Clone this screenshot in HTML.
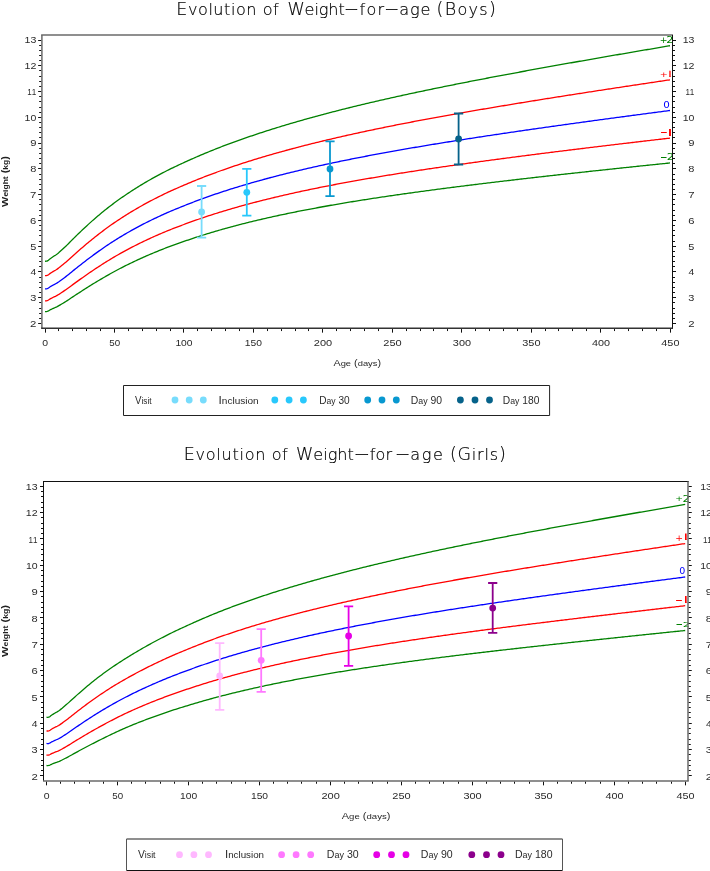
<!DOCTYPE html>
<html><head><meta charset="utf-8"><title>Evolution of Weight-for-age</title>
<style>html,body{margin:0;padding:0;background:#fff;width:710px;height:871px;overflow:hidden}svg{display:block}text{font-kerning:none}</style>
</head><body>
<svg width="710" height="871" viewBox="0 0 710 871">
<rect width="710" height="871" fill="#fff"/>
<text font-family="'DejaVu Sans', 'Liberation Sans', sans-serif" font-weight="200" font-size="17.50" fill="#000" stroke="#000" stroke-width="0.18"><tspan x="176.37" y="14.70" letter-spacing="0.526">E<tspan font-size="16.10">volution</tspan></tspan> <tspan x="262.73" y="14.70" letter-spacing="0.510"><tspan font-size="16.10">of</tspan></tspan> <tspan x="287.39" y="14.70" letter-spacing="-0.100">W<tspan font-size="16.10">eight</tspan></tspan><tspan x="343.98" y="13.79" textLength="14.94" lengthAdjust="spacingAndGlyphs" stroke-width="0.3">-</tspan><tspan x="359.47" y="14.70" letter-spacing="1.305"><tspan font-size="16.10">for</tspan></tspan><tspan x="384.18" y="13.79" textLength="14.94" lengthAdjust="spacingAndGlyphs" stroke-width="0.3">-</tspan><tspan x="399.18" y="14.70" letter-spacing="0.903"><tspan font-size="16.10">age</tspan></tspan> <tspan x="436.59" y="14.70" letter-spacing="1.267">(B<tspan font-size="16.10">oys</tspan>)</tspan></text>
<text font-family="'DejaVu Sans', 'Liberation Sans', sans-serif" font-weight="200" font-size="17.50" fill="#000" stroke="#000" stroke-width="0.18"><tspan x="183.77" y="459.80" letter-spacing="0.713">E<tspan font-size="16.10">volution</tspan></tspan> <tspan x="271.73" y="459.80" letter-spacing="0.510"><tspan font-size="16.10">of</tspan></tspan> <tspan x="295.89" y="459.80" letter-spacing="0.040">W<tspan font-size="16.10">eight</tspan></tspan><tspan x="353.81" y="459.09" textLength="16.18" lengthAdjust="spacingAndGlyphs" stroke-width="0.3">-</tspan><tspan x="369.87" y="459.80" letter-spacing="0.055"><tspan font-size="16.10">for</tspan></tspan><tspan x="394.94" y="459.09" textLength="15.22" lengthAdjust="spacingAndGlyphs" stroke-width="0.3">-</tspan><tspan x="410.18" y="459.80" letter-spacing="1.653"><tspan font-size="16.10">age</tspan></tspan> <tspan x="449.89" y="459.80" letter-spacing="0.791">(G<tspan font-size="16.10">irls</tspan>)</tspan></text>
<g transform="rotate(-90)"><text x="-206.91" y="7.90" font-family="'Liberation Sans', Arial, sans-serif" font-weight="bold" font-size="8.60" fill="#222" textLength="50.75" lengthAdjust="spacingAndGlyphs">W<tspan font-size="6.71">eight</tspan> (<tspan font-size="6.71">kg</tspan>)</text></g>
<g transform="rotate(-90)"><text x="-657.01" y="8.40" font-family="'Liberation Sans', Arial, sans-serif" font-weight="bold" font-size="8.60" fill="#222" textLength="52.07" lengthAdjust="spacingAndGlyphs">W<tspan font-size="6.71">eight</tspan> (<tspan font-size="6.71">kg</tspan>)</text></g>
<text x="333.48" y="365.50" font-family="'Liberation Sans', Arial, sans-serif" font-size="8.40" fill="#2a2a2a" textLength="47.59" lengthAdjust="spacingAndGlyphs">A<tspan font-size="7.31">ge</tspan> (<tspan font-size="7.31">days</tspan>)</text>
<text x="341.78" y="819.00" font-family="'Liberation Sans', Arial, sans-serif" font-size="8.40" fill="#2a2a2a" textLength="48.60" lengthAdjust="spacingAndGlyphs">A<tspan font-size="7.31">ge</tspan> (<tspan font-size="7.31">days</tspan>)</text>
<path d="M45.00,261.15 L45.69,261.25 L46.39,261.22 L47.08,261.06 L47.78,260.70 L48.47,260.18 L49.17,259.56 L49.86,258.94 L50.56,258.41 L51.25,257.94 L51.94,257.46 L52.64,256.98 L53.33,256.51 L54.03,256.05 L54.72,255.63 L55.42,255.19 L56.11,254.72 L56.81,254.22 L57.50,253.69 L58.19,253.13 L58.89,252.55 L60.28,251.33 L61.67,250.07 L63.06,248.78 L64.44,247.51 L65.83,246.21 L67.22,244.86 L68.61,243.47 L70.00,242.07 L71.39,240.65 L72.78,239.25 L74.17,237.87 L75.56,236.51 L76.94,235.16 L78.33,233.82 L79.72,232.48 L81.11,231.15 L82.50,229.83 L83.89,228.52 L85.28,227.22 L86.67,225.92 L88.06,224.64 L89.44,223.37 L90.83,222.12 L92.22,220.88 L93.61,219.66 L95.00,218.45 L96.39,217.26 L97.78,216.08 L99.17,214.91 L100.56,213.75 L101.94,212.60 L103.33,211.46 L104.72,210.33 L106.11,209.22 L107.50,208.12 L108.89,207.04 L110.28,205.96 L111.67,204.91 L113.06,203.86 L114.44,202.83 L115.83,201.81 L117.22,200.80 L118.61,199.80 L120.00,198.81 L121.39,197.83 L122.78,196.87 L124.17,195.91 L125.56,194.96 L126.94,194.03 L128.33,193.10 L129.72,192.18 L131.11,191.27 L132.50,190.37 L133.89,189.48 L135.28,188.59 L136.67,187.72 L138.06,186.86 L139.44,186.00 L140.83,185.16 L142.22,184.32 L143.61,183.49 L145.00,182.67 L146.39,181.86 L147.78,181.05 L149.17,180.25 L150.56,179.47 L151.94,178.68 L153.33,177.91 L154.72,177.14 L156.11,176.38 L157.50,175.63 L158.89,174.89 L160.28,174.15 L161.67,173.41 L163.06,172.69 L164.44,171.96 L165.83,171.24 L167.22,170.52 L168.61,169.82 L170.00,169.13 L171.39,168.45 L172.78,167.79 L174.17,167.13 L175.56,166.47 L176.94,165.82 L178.33,165.16 L179.72,164.52 L181.11,163.87 L182.50,163.23 L183.89,162.59 L185.28,161.96 L186.67,161.33 L188.06,160.70 L189.44,160.07 L190.83,159.45 L192.22,158.84 L193.61,158.22 L195.00,157.61 L196.39,157.01 L197.78,156.41 L199.17,155.81 L200.56,155.21 L201.94,154.62 L203.33,154.03 L204.72,153.45 L206.11,152.87 L207.50,152.30 L208.89,151.73 L210.28,151.16 L211.67,150.60 L213.06,150.04 L214.44,149.48 L215.83,148.93 L217.22,148.38 L218.61,147.84 L220.00,147.30 L221.39,146.76 L222.78,146.23 L224.17,145.70 L225.56,145.18 L226.94,144.66 L228.33,144.14 L229.72,143.62 L231.11,143.11 L232.50,142.60 L233.89,142.09 L235.28,141.59 L236.67,141.09 L238.06,140.59 L239.44,140.10 L240.83,139.61 L242.22,139.12 L243.61,138.63 L245.00,138.15 L246.39,137.66 L247.78,137.19 L249.17,136.71 L250.56,136.23 L251.94,135.76 L253.33,135.29 L254.72,134.82 L256.11,134.36 L257.50,133.89 L258.89,133.43 L260.28,132.97 L261.67,132.52 L263.06,132.07 L264.44,131.62 L265.83,131.17 L267.22,130.72 L268.61,130.28 L270.00,129.84 L271.39,129.40 L272.78,128.97 L274.17,128.53 L275.56,128.10 L276.94,127.67 L278.33,127.25 L279.72,126.82 L281.11,126.40 L282.50,125.98 L283.89,125.56 L285.28,125.14 L286.67,124.73 L288.06,124.31 L289.44,123.90 L290.83,123.49 L292.22,123.08 L293.61,122.68 L295.00,122.27 L296.39,121.87 L297.78,121.47 L299.17,121.06 L300.56,120.66 L301.94,120.27 L303.33,119.87 L304.72,119.48 L306.11,119.09 L307.50,118.70 L308.89,118.31 L310.28,117.93 L311.67,117.54 L313.06,117.16 L314.44,116.78 L315.83,116.40 L317.22,116.02 L318.61,115.65 L320.00,115.28 L321.39,114.90 L322.78,114.53 L324.17,114.16 L325.56,113.80 L326.94,113.43 L328.33,113.06 L329.72,112.70 L331.11,112.34 L332.50,111.98 L333.89,111.62 L335.28,111.26 L336.67,110.90 L338.06,110.55 L339.44,110.19 L340.83,109.84 L342.22,109.48 L343.61,109.13 L345.00,108.78 L346.39,108.44 L347.78,108.09 L349.17,107.75 L350.56,107.40 L351.94,107.06 L353.33,106.72 L354.72,106.38 L356.11,106.05 L357.50,105.71 L358.89,105.37 L360.28,105.04 L361.67,104.71 L363.06,104.38 L364.44,104.05 L365.83,103.72 L367.22,103.39 L368.61,103.06 L370.00,102.74 L371.39,102.41 L372.78,102.09 L374.17,101.77 L375.56,101.44 L376.94,101.12 L378.33,100.80 L379.72,100.48 L381.11,100.16 L382.50,99.84 L383.89,99.52 L385.28,99.21 L386.67,98.89 L388.06,98.58 L389.44,98.26 L390.83,97.95 L392.22,97.64 L393.61,97.33 L395.00,97.02 L396.39,96.71 L397.78,96.40 L399.17,96.10 L400.56,95.79 L401.94,95.49 L403.33,95.19 L404.72,94.88 L406.11,94.58 L407.50,94.28 L408.89,93.98 L410.28,93.68 L411.67,93.39 L413.06,93.09 L414.44,92.79 L415.83,92.50 L417.22,92.20 L418.61,91.91 L420.00,91.62 L421.39,91.32 L422.78,91.03 L424.17,90.74 L425.56,90.45 L426.94,90.16 L428.33,89.87 L429.72,89.58 L431.11,89.29 L432.50,89.01 L433.89,88.72 L435.28,88.44 L436.67,88.15 L438.06,87.87 L439.44,87.58 L440.83,87.30 L442.22,87.02 L443.61,86.73 L445.00,86.45 L446.39,86.17 L447.78,85.89 L449.17,85.61 L450.56,85.33 L451.94,85.05 L453.33,84.78 L454.72,84.50 L456.11,84.22 L457.50,83.94 L458.89,83.67 L460.28,83.39 L461.67,83.12 L463.06,82.84 L464.44,82.57 L465.83,82.30 L467.22,82.02 L468.61,81.75 L470.00,81.48 L471.39,81.21 L472.78,80.94 L474.17,80.67 L475.56,80.40 L476.94,80.13 L478.33,79.86 L479.72,79.59 L481.11,79.33 L482.50,79.06 L483.89,78.79 L485.28,78.53 L486.67,78.26 L488.06,78.00 L489.44,77.73 L490.83,77.47 L492.22,77.20 L493.61,76.94 L495.00,76.68 L496.39,76.42 L497.78,76.15 L499.17,75.89 L500.56,75.63 L501.94,75.37 L503.33,75.11 L504.72,74.85 L506.11,74.59 L507.50,74.33 L508.89,74.07 L510.28,73.81 L511.67,73.55 L513.06,73.29 L514.44,73.04 L515.83,72.78 L517.22,72.52 L518.61,72.27 L520.00,72.01 L521.39,71.75 L522.78,71.50 L524.17,71.24 L525.56,70.99 L526.94,70.73 L528.33,70.48 L529.72,70.23 L531.11,69.97 L532.50,69.72 L533.89,69.47 L535.28,69.21 L536.67,68.96 L538.06,68.71 L539.44,68.46 L540.83,68.21 L542.22,67.95 L543.61,67.70 L545.00,67.45 L546.39,67.20 L547.78,66.95 L549.17,66.70 L550.56,66.45 L551.94,66.20 L553.33,65.95 L554.72,65.70 L556.11,65.46 L557.50,65.21 L558.89,64.96 L560.28,64.71 L561.67,64.46 L563.06,64.22 L564.44,63.97 L565.83,63.72 L567.22,63.47 L568.61,63.23 L570.00,62.98 L571.39,62.74 L572.78,62.49 L574.17,62.24 L575.56,62.00 L576.94,61.75 L578.33,61.51 L579.72,61.26 L581.11,61.02 L582.50,60.78 L583.89,60.53 L585.28,60.29 L586.67,60.04 L588.06,59.80 L589.44,59.56 L590.83,59.31 L592.22,59.07 L593.61,58.83 L595.00,58.59 L596.39,58.34 L597.78,58.10 L599.17,57.86 L600.56,57.62 L601.94,57.38 L603.33,57.14 L604.72,56.89 L606.11,56.65 L607.50,56.41 L608.89,56.17 L610.28,55.93 L611.67,55.69 L613.06,55.45 L614.44,55.21 L615.83,54.97 L617.22,54.74 L618.61,54.50 L620.00,54.26 L621.39,54.02 L622.78,53.78 L624.17,53.54 L625.56,53.30 L626.94,53.06 L628.33,52.83 L629.72,52.59 L631.11,52.35 L632.50,52.11 L633.89,51.87 L635.28,51.64 L636.67,51.40 L638.06,51.16 L639.44,50.92 L640.83,50.69 L642.22,50.45 L643.61,50.21 L645.00,49.98 L646.39,49.74 L647.78,49.50 L649.17,49.27 L650.56,49.03 L651.94,48.80 L653.33,48.56 L654.72,48.32 L656.11,48.09 L657.50,47.85 L658.89,47.62 L660.28,47.38 L661.67,47.15 L663.06,46.91 L664.44,46.68 L665.83,46.44 L667.22,46.21 L668.61,45.97 L670.00,45.74" fill="none" stroke="#008000" stroke-width="1.3"/>
<path d="M45.00,275.60 L45.69,275.68 L46.39,275.64 L47.08,275.48 L47.78,275.17 L48.47,274.69 L49.17,274.15 L49.86,273.60 L50.56,273.12 L51.25,272.69 L51.94,272.26 L52.64,271.83 L53.33,271.41 L54.03,271.00 L54.72,270.61 L55.42,270.22 L56.11,269.80 L56.81,269.35 L57.50,268.87 L58.19,268.37 L58.89,267.85 L60.28,266.76 L61.67,265.62 L63.06,264.47 L64.44,263.32 L65.83,262.16 L67.22,260.95 L68.61,259.71 L70.00,258.44 L71.39,257.17 L72.78,255.91 L74.17,254.67 L75.56,253.45 L76.94,252.23 L78.33,251.02 L79.72,249.81 L81.11,248.61 L82.50,247.41 L83.89,246.22 L85.28,245.04 L86.67,243.86 L88.06,242.70 L89.44,241.54 L90.83,240.40 L92.22,239.27 L93.61,238.15 L95.00,237.05 L96.39,235.95 L97.78,234.87 L99.17,233.79 L100.56,232.73 L101.94,231.67 L103.33,230.62 L104.72,229.59 L106.11,228.56 L107.50,227.55 L108.89,226.54 L110.28,225.55 L111.67,224.57 L113.06,223.60 L114.44,222.65 L115.83,221.70 L117.22,220.76 L118.61,219.84 L120.00,218.92 L121.39,218.02 L122.78,217.12 L124.17,216.23 L125.56,215.35 L126.94,214.48 L128.33,213.62 L129.72,212.77 L131.11,211.92 L132.50,211.09 L133.89,210.26 L135.28,209.44 L136.67,208.63 L138.06,207.83 L139.44,207.03 L140.83,206.25 L142.22,205.47 L143.61,204.69 L145.00,203.93 L146.39,203.17 L147.78,202.42 L149.17,201.68 L150.56,200.95 L151.94,200.22 L153.33,199.50 L154.72,198.78 L156.11,198.07 L157.50,197.37 L158.89,196.68 L160.28,195.99 L161.67,195.31 L163.06,194.63 L164.44,193.95 L165.83,193.28 L167.22,192.61 L168.61,191.96 L170.00,191.31 L171.39,190.68 L172.78,190.06 L174.17,189.45 L175.56,188.83 L176.94,188.22 L178.33,187.62 L179.72,187.01 L181.11,186.41 L182.50,185.81 L183.89,185.22 L185.28,184.63 L186.67,184.04 L188.06,183.45 L189.44,182.87 L190.83,182.29 L192.22,181.72 L193.61,181.15 L195.00,180.58 L196.39,180.01 L197.78,179.45 L199.17,178.90 L200.56,178.34 L201.94,177.79 L203.33,177.25 L204.72,176.71 L206.11,176.17 L207.50,175.64 L208.89,175.11 L210.28,174.58 L211.67,174.06 L213.06,173.54 L214.44,173.03 L215.83,172.52 L217.22,172.01 L218.61,171.51 L220.00,171.01 L221.39,170.51 L222.78,170.02 L224.17,169.53 L225.56,169.04 L226.94,168.56 L228.33,168.08 L229.72,167.60 L231.11,167.13 L232.50,166.66 L233.89,166.19 L235.28,165.72 L236.67,165.26 L238.06,164.80 L239.44,164.35 L240.83,163.89 L242.22,163.44 L243.61,162.99 L245.00,162.55 L246.39,162.10 L247.78,161.66 L249.17,161.22 L250.56,160.79 L251.94,160.35 L253.33,159.92 L254.72,159.49 L256.11,159.06 L257.50,158.64 L258.89,158.21 L260.28,157.79 L261.67,157.38 L263.06,156.96 L264.44,156.55 L265.83,156.14 L267.22,155.73 L268.61,155.33 L270.00,154.92 L271.39,154.52 L272.78,154.12 L274.17,153.73 L275.56,153.33 L276.94,152.94 L278.33,152.55 L279.72,152.16 L281.11,151.78 L282.50,151.39 L283.89,151.01 L285.28,150.63 L286.67,150.25 L288.06,149.87 L289.44,149.50 L290.83,149.13 L292.22,148.75 L293.61,148.38 L295.00,148.01 L296.39,147.65 L297.78,147.28 L299.17,146.92 L300.56,146.56 L301.94,146.20 L303.33,145.84 L304.72,145.48 L306.11,145.13 L307.50,144.77 L308.89,144.42 L310.28,144.07 L311.67,143.72 L313.06,143.38 L314.44,143.03 L315.83,142.69 L317.22,142.35 L318.61,142.01 L320.00,141.67 L321.39,141.33 L322.78,141.00 L324.17,140.66 L325.56,140.33 L326.94,140.00 L328.33,139.67 L329.72,139.34 L331.11,139.01 L332.50,138.69 L333.89,138.36 L335.28,138.04 L336.67,137.72 L338.06,137.40 L339.44,137.08 L340.83,136.76 L342.22,136.44 L343.61,136.12 L345.00,135.81 L346.39,135.50 L347.78,135.19 L349.17,134.87 L350.56,134.57 L351.94,134.26 L353.33,133.95 L354.72,133.65 L356.11,133.34 L357.50,133.04 L358.89,132.74 L360.28,132.44 L361.67,132.14 L363.06,131.84 L364.44,131.55 L365.83,131.25 L367.22,130.96 L368.61,130.66 L370.00,130.37 L371.39,130.08 L372.78,129.79 L374.17,129.50 L375.56,129.21 L376.94,128.92 L378.33,128.63 L379.72,128.35 L381.11,128.06 L382.50,127.78 L383.89,127.49 L385.28,127.21 L386.67,126.93 L388.06,126.64 L389.44,126.36 L390.83,126.08 L392.22,125.81 L393.61,125.53 L395.00,125.25 L396.39,124.98 L397.78,124.70 L399.17,124.43 L400.56,124.16 L401.94,123.89 L403.33,123.61 L404.72,123.34 L406.11,123.08 L407.50,122.81 L408.89,122.54 L410.28,122.27 L411.67,122.01 L413.06,121.74 L414.44,121.48 L415.83,121.21 L417.22,120.95 L418.61,120.69 L420.00,120.42 L421.39,120.16 L422.78,119.90 L424.17,119.64 L425.56,119.38 L426.94,119.12 L428.33,118.87 L429.72,118.61 L431.11,118.35 L432.50,118.09 L433.89,117.84 L435.28,117.58 L436.67,117.33 L438.06,117.08 L439.44,116.82 L440.83,116.57 L442.22,116.32 L443.61,116.07 L445.00,115.82 L446.39,115.57 L447.78,115.32 L449.17,115.07 L450.56,114.82 L451.94,114.57 L453.33,114.33 L454.72,114.08 L456.11,113.83 L457.50,113.59 L458.89,113.34 L460.28,113.10 L461.67,112.85 L463.06,112.61 L464.44,112.37 L465.83,112.12 L467.22,111.88 L468.61,111.64 L470.00,111.40 L471.39,111.16 L472.78,110.92 L474.17,110.68 L475.56,110.44 L476.94,110.20 L478.33,109.96 L479.72,109.72 L481.11,109.48 L482.50,109.25 L483.89,109.01 L485.28,108.77 L486.67,108.54 L488.06,108.30 L489.44,108.07 L490.83,107.83 L492.22,107.60 L493.61,107.37 L495.00,107.13 L496.39,106.90 L497.78,106.67 L499.17,106.44 L500.56,106.20 L501.94,105.97 L503.33,105.74 L504.72,105.51 L506.11,105.28 L507.50,105.05 L508.89,104.82 L510.28,104.59 L511.67,104.36 L513.06,104.13 L514.44,103.90 L515.83,103.67 L517.22,103.45 L518.61,103.22 L520.00,102.99 L521.39,102.76 L522.78,102.54 L524.17,102.31 L525.56,102.09 L526.94,101.86 L528.33,101.64 L529.72,101.41 L531.11,101.19 L532.50,100.96 L533.89,100.74 L535.28,100.51 L536.67,100.29 L538.06,100.07 L539.44,99.84 L540.83,99.62 L542.22,99.40 L543.61,99.18 L545.00,98.96 L546.39,98.73 L547.78,98.51 L549.17,98.29 L550.56,98.07 L551.94,97.85 L553.33,97.63 L554.72,97.41 L556.11,97.19 L557.50,96.97 L558.89,96.75 L560.28,96.53 L561.67,96.31 L563.06,96.09 L564.44,95.87 L565.83,95.66 L567.22,95.44 L568.61,95.22 L570.00,95.00 L571.39,94.78 L572.78,94.57 L574.17,94.35 L575.56,94.13 L576.94,93.92 L578.33,93.70 L579.72,93.49 L581.11,93.27 L582.50,93.05 L583.89,92.84 L585.28,92.62 L586.67,92.41 L588.06,92.19 L589.44,91.98 L590.83,91.77 L592.22,91.55 L593.61,91.34 L595.00,91.12 L596.39,90.91 L597.78,90.70 L599.17,90.48 L600.56,90.27 L601.94,90.06 L603.33,89.84 L604.72,89.63 L606.11,89.42 L607.50,89.21 L608.89,88.99 L610.28,88.78 L611.67,88.57 L613.06,88.36 L614.44,88.15 L615.83,87.94 L617.22,87.73 L618.61,87.52 L620.00,87.31 L621.39,87.10 L622.78,86.88 L624.17,86.67 L625.56,86.46 L626.94,86.25 L628.33,86.05 L629.72,85.84 L631.11,85.63 L632.50,85.42 L633.89,85.21 L635.28,85.00 L636.67,84.79 L638.06,84.58 L639.44,84.37 L640.83,84.16 L642.22,83.95 L643.61,83.75 L645.00,83.54 L646.39,83.33 L647.78,83.12 L649.17,82.91 L650.56,82.71 L651.94,82.50 L653.33,82.29 L654.72,82.08 L656.11,81.88 L657.50,81.67 L658.89,81.46 L660.28,81.26 L661.67,81.05 L663.06,80.84 L664.44,80.64 L665.83,80.43 L667.22,80.22 L668.61,80.02 L670.00,79.81" fill="none" stroke="#ff0000" stroke-width="1.3"/>
<path d="M45.00,288.80 L45.69,288.85 L46.39,288.81 L47.08,288.66 L47.78,288.36 L48.47,287.94 L49.17,287.45 L49.86,286.95 L50.56,286.52 L51.25,286.14 L51.94,285.75 L52.64,285.36 L53.33,284.97 L54.03,284.60 L54.72,284.25 L55.42,283.90 L56.11,283.51 L56.81,283.10 L57.50,282.67 L58.19,282.22 L58.89,281.75 L60.28,280.77 L61.67,279.75 L63.06,278.71 L64.44,277.68 L65.83,276.63 L67.22,275.54 L68.61,274.42 L70.00,273.28 L71.39,272.14 L72.78,271.00 L74.17,269.88 L75.56,268.78 L76.94,267.68 L78.33,266.58 L79.72,265.49 L81.11,264.40 L82.50,263.31 L83.89,262.24 L85.28,261.16 L86.67,260.09 L88.06,259.03 L89.44,257.98 L90.83,256.94 L92.22,255.91 L93.61,254.89 L95.00,253.88 L96.39,252.87 L97.78,251.88 L99.17,250.89 L100.56,249.91 L101.94,248.94 L103.33,247.98 L104.72,247.02 L106.11,246.08 L107.50,245.14 L108.89,244.22 L110.28,243.30 L111.67,242.39 L113.06,241.50 L114.44,240.61 L115.83,239.74 L117.22,238.87 L118.61,238.01 L120.00,237.16 L121.39,236.32 L122.78,235.49 L124.17,234.67 L125.56,233.85 L126.94,233.04 L128.33,232.25 L129.72,231.45 L131.11,230.67 L132.50,229.90 L133.89,229.13 L135.28,228.37 L136.67,227.61 L138.06,226.87 L139.44,226.13 L140.83,225.40 L142.22,224.67 L143.61,223.95 L145.00,223.24 L146.39,222.54 L147.78,221.84 L149.17,221.15 L150.56,220.46 L151.94,219.79 L153.33,219.11 L154.72,218.45 L156.11,217.79 L157.50,217.13 L158.89,216.48 L160.28,215.84 L161.67,215.21 L163.06,214.57 L164.44,213.94 L165.83,213.31 L167.22,212.70 L168.61,212.08 L170.00,211.49 L171.39,210.90 L172.78,210.32 L174.17,209.75 L175.56,209.17 L176.94,208.61 L178.33,208.04 L179.72,207.48 L181.11,206.91 L182.50,206.36 L183.89,205.80 L185.28,205.25 L186.67,204.70 L188.06,204.16 L189.44,203.61 L190.83,203.08 L192.22,202.54 L193.61,202.01 L195.00,201.48 L196.39,200.95 L197.78,200.43 L199.17,199.91 L200.56,199.40 L201.94,198.89 L203.33,198.38 L204.72,197.88 L206.11,197.38 L207.50,196.88 L208.89,196.39 L210.28,195.90 L211.67,195.41 L213.06,194.93 L214.44,194.46 L215.83,193.99 L217.22,193.52 L218.61,193.05 L220.00,192.59 L221.39,192.13 L222.78,191.67 L224.17,191.22 L225.56,190.77 L226.94,190.32 L228.33,189.87 L229.72,189.43 L231.11,188.99 L232.50,188.56 L233.89,188.13 L235.28,187.70 L236.67,187.27 L238.06,186.84 L239.44,186.42 L240.83,186.00 L242.22,185.58 L243.61,185.17 L245.00,184.76 L246.39,184.35 L247.78,183.94 L249.17,183.54 L250.56,183.14 L251.94,182.74 L253.33,182.34 L254.72,181.95 L256.11,181.55 L257.50,181.16 L258.89,180.77 L260.28,180.39 L261.67,180.01 L263.06,179.62 L264.44,179.25 L265.83,178.87 L267.22,178.50 L268.61,178.12 L270.00,177.75 L271.39,177.39 L272.78,177.02 L274.17,176.66 L275.56,176.30 L276.94,175.94 L278.33,175.58 L279.72,175.23 L281.11,174.87 L282.50,174.52 L283.89,174.17 L285.28,173.82 L286.67,173.48 L288.06,173.13 L289.44,172.79 L290.83,172.45 L292.22,172.11 L293.61,171.77 L295.00,171.44 L296.39,171.10 L297.78,170.77 L299.17,170.44 L300.56,170.11 L301.94,169.78 L303.33,169.46 L304.72,169.13 L306.11,168.81 L307.50,168.49 L308.89,168.17 L310.28,167.85 L311.67,167.54 L313.06,167.22 L314.44,166.91 L315.83,166.60 L317.22,166.29 L318.61,165.98 L320.00,165.67 L321.39,165.37 L322.78,165.06 L324.17,164.76 L325.56,164.46 L326.94,164.16 L328.33,163.86 L329.72,163.56 L331.11,163.27 L332.50,162.97 L333.89,162.68 L335.28,162.38 L336.67,162.09 L338.06,161.80 L339.44,161.51 L340.83,161.23 L342.22,160.94 L343.61,160.66 L345.00,160.37 L346.39,160.09 L347.78,159.81 L349.17,159.53 L350.56,159.25 L351.94,158.97 L353.33,158.70 L354.72,158.42 L356.11,158.15 L357.50,157.88 L358.89,157.60 L360.28,157.33 L361.67,157.06 L363.06,156.80 L364.44,156.53 L365.83,156.26 L367.22,156.00 L368.61,155.73 L370.00,155.47 L371.39,155.21 L372.78,154.95 L374.17,154.69 L375.56,154.43 L376.94,154.17 L378.33,153.91 L379.72,153.65 L381.11,153.39 L382.50,153.14 L383.89,152.88 L385.28,152.63 L386.67,152.38 L388.06,152.12 L389.44,151.87 L390.83,151.62 L392.22,151.37 L393.61,151.12 L395.00,150.88 L396.39,150.63 L397.78,150.38 L399.17,150.14 L400.56,149.89 L401.94,149.65 L403.33,149.41 L404.72,149.17 L406.11,148.93 L407.50,148.69 L408.89,148.45 L410.28,148.21 L411.67,147.97 L413.06,147.73 L414.44,147.49 L415.83,147.26 L417.22,147.02 L418.61,146.79 L420.00,146.55 L421.39,146.32 L422.78,146.08 L424.17,145.85 L425.56,145.62 L426.94,145.39 L428.33,145.15 L429.72,144.92 L431.11,144.69 L432.50,144.47 L433.89,144.24 L435.28,144.01 L436.67,143.78 L438.06,143.56 L439.44,143.33 L440.83,143.10 L442.22,142.88 L443.61,142.66 L445.00,142.43 L446.39,142.21 L447.78,141.99 L449.17,141.76 L450.56,141.54 L451.94,141.32 L453.33,141.10 L454.72,140.88 L456.11,140.66 L457.50,140.44 L458.89,140.23 L460.28,140.01 L461.67,139.79 L463.06,139.57 L464.44,139.36 L465.83,139.14 L467.22,138.92 L468.61,138.71 L470.00,138.49 L471.39,138.28 L472.78,138.06 L474.17,137.85 L475.56,137.63 L476.94,137.42 L478.33,137.21 L479.72,137.00 L481.11,136.79 L482.50,136.57 L483.89,136.36 L485.28,136.15 L486.67,135.94 L488.06,135.73 L489.44,135.52 L490.83,135.32 L492.22,135.11 L493.61,134.90 L495.00,134.69 L496.39,134.49 L497.78,134.28 L499.17,134.07 L500.56,133.87 L501.94,133.66 L503.33,133.45 L504.72,133.25 L506.11,133.04 L507.50,132.84 L508.89,132.63 L510.28,132.43 L511.67,132.22 L513.06,132.02 L514.44,131.82 L515.83,131.61 L517.22,131.41 L518.61,131.21 L520.00,131.01 L521.39,130.81 L522.78,130.61 L524.17,130.40 L525.56,130.20 L526.94,130.00 L528.33,129.80 L529.72,129.60 L531.11,129.40 L532.50,129.20 L533.89,129.01 L535.28,128.81 L536.67,128.61 L538.06,128.41 L539.44,128.21 L540.83,128.02 L542.22,127.82 L543.61,127.62 L545.00,127.42 L546.39,127.23 L547.78,127.03 L549.17,126.83 L550.56,126.64 L551.94,126.44 L553.33,126.25 L554.72,126.05 L556.11,125.86 L557.50,125.66 L558.89,125.47 L560.28,125.27 L561.67,125.08 L563.06,124.88 L564.44,124.69 L565.83,124.50 L567.22,124.30 L568.61,124.11 L570.00,123.92 L571.39,123.73 L572.78,123.53 L574.17,123.34 L575.56,123.15 L576.94,122.96 L578.33,122.77 L579.72,122.58 L581.11,122.38 L582.50,122.19 L583.89,122.00 L585.28,121.81 L586.67,121.62 L588.06,121.43 L589.44,121.24 L590.83,121.05 L592.22,120.86 L593.61,120.67 L595.00,120.48 L596.39,120.29 L597.78,120.11 L599.17,119.92 L600.56,119.73 L601.94,119.54 L603.33,119.35 L604.72,119.16 L606.11,118.98 L607.50,118.79 L608.89,118.60 L610.28,118.41 L611.67,118.23 L613.06,118.04 L614.44,117.85 L615.83,117.67 L617.22,117.48 L618.61,117.29 L620.00,117.11 L621.39,116.92 L622.78,116.74 L624.17,116.55 L625.56,116.36 L626.94,116.18 L628.33,115.99 L629.72,115.81 L631.11,115.62 L632.50,115.44 L633.89,115.25 L635.28,115.07 L636.67,114.89 L638.06,114.70 L639.44,114.52 L640.83,114.33 L642.22,114.15 L643.61,113.96 L645.00,113.78 L646.39,113.60 L647.78,113.41 L649.17,113.23 L650.56,113.05 L651.94,112.86 L653.33,112.68 L654.72,112.50 L656.11,112.32 L657.50,112.13 L658.89,111.95 L660.28,111.77 L661.67,111.59 L663.06,111.41 L664.44,111.22 L665.83,111.04 L667.22,110.86 L668.61,110.68 L670.00,110.50" fill="none" stroke="#0000ff" stroke-width="1.3"/>
<path d="M45.00,300.80 L45.69,300.83 L46.39,300.77 L47.08,300.62 L47.78,300.35 L48.47,299.97 L49.17,299.52 L49.86,299.08 L50.56,298.69 L51.25,298.34 L51.94,297.98 L52.64,297.63 L53.33,297.28 L54.03,296.94 L54.72,296.61 L55.42,296.29 L56.11,295.94 L56.81,295.56 L57.50,295.17 L58.19,294.76 L58.89,294.34 L60.28,293.45 L61.67,292.53 L63.06,291.59 L64.44,290.66 L65.83,289.71 L67.22,288.72 L68.61,287.71 L70.00,286.69 L71.39,285.66 L72.78,284.63 L74.17,283.62 L75.56,282.62 L76.94,281.62 L78.33,280.62 L79.72,279.63 L81.11,278.64 L82.50,277.66 L83.89,276.68 L85.28,275.70 L86.67,274.73 L88.06,273.77 L89.44,272.81 L90.83,271.86 L92.22,270.92 L93.61,269.99 L95.00,269.06 L96.39,268.14 L97.78,267.23 L99.17,266.33 L100.56,265.43 L101.94,264.54 L103.33,263.65 L104.72,262.77 L106.11,261.90 L107.50,261.04 L108.89,260.18 L110.28,259.34 L111.67,258.50 L113.06,257.67 L114.44,256.86 L115.83,256.04 L117.22,255.24 L118.61,254.45 L120.00,253.66 L121.39,252.88 L122.78,252.11 L124.17,251.35 L125.56,250.59 L126.94,249.84 L128.33,249.10 L129.72,248.37 L131.11,247.65 L132.50,246.93 L133.89,246.21 L135.28,245.51 L136.67,244.81 L138.06,244.12 L139.44,243.43 L140.83,242.75 L142.22,242.08 L143.61,241.41 L145.00,240.75 L146.39,240.09 L147.78,239.44 L149.17,238.80 L150.56,238.16 L151.94,237.53 L153.33,236.90 L154.72,236.28 L156.11,235.67 L157.50,235.06 L158.89,234.45 L160.28,233.85 L161.67,233.26 L163.06,232.67 L164.44,232.08 L165.83,231.50 L167.22,230.92 L168.61,230.35 L170.00,229.79 L171.39,229.25 L172.78,228.71 L174.17,228.17 L175.56,227.64 L176.94,227.11 L178.33,226.58 L179.72,226.05 L181.11,225.53 L182.50,225.01 L183.89,224.49 L185.28,223.98 L186.67,223.47 L188.06,222.96 L189.44,222.46 L190.83,221.95 L192.22,221.45 L193.61,220.96 L195.00,220.46 L196.39,219.98 L197.78,219.49 L199.17,219.01 L200.56,218.53 L201.94,218.05 L203.33,217.58 L204.72,217.11 L206.11,216.65 L207.50,216.19 L208.89,215.73 L210.28,215.27 L211.67,214.83 L213.06,214.38 L214.44,213.94 L215.83,213.50 L217.22,213.06 L218.61,212.63 L220.00,212.20 L221.39,211.78 L222.78,211.35 L224.17,210.93 L225.56,210.51 L226.94,210.10 L228.33,209.69 L229.72,209.28 L231.11,208.87 L232.50,208.47 L233.89,208.07 L235.28,207.67 L236.67,207.27 L238.06,206.88 L239.44,206.49 L240.83,206.10 L242.22,205.72 L243.61,205.33 L245.00,204.95 L246.39,204.58 L247.78,204.20 L249.17,203.83 L250.56,203.46 L251.94,203.09 L253.33,202.72 L254.72,202.36 L256.11,202.00 L257.50,201.64 L258.89,201.28 L260.28,200.93 L261.67,200.58 L263.06,200.23 L264.44,199.88 L265.83,199.53 L267.22,199.19 L268.61,198.85 L270.00,198.51 L271.39,198.17 L272.78,197.84 L274.17,197.50 L275.56,197.17 L276.94,196.84 L278.33,196.51 L279.72,196.19 L281.11,195.86 L282.50,195.54 L283.89,195.22 L285.28,194.90 L286.67,194.59 L288.06,194.27 L289.44,193.96 L290.83,193.65 L292.22,193.34 L293.61,193.03 L295.00,192.72 L296.39,192.42 L297.78,192.12 L299.17,191.81 L300.56,191.51 L301.94,191.22 L303.33,190.92 L304.72,190.62 L306.11,190.33 L307.50,190.04 L308.89,189.75 L310.28,189.46 L311.67,189.17 L313.06,188.88 L314.44,188.60 L315.83,188.31 L317.22,188.03 L318.61,187.75 L320.00,187.47 L321.39,187.20 L322.78,186.92 L324.17,186.64 L325.56,186.37 L326.94,186.10 L328.33,185.83 L329.72,185.56 L331.11,185.29 L332.50,185.02 L333.89,184.76 L335.28,184.49 L336.67,184.23 L338.06,183.96 L339.44,183.70 L340.83,183.44 L342.22,183.18 L343.61,182.93 L345.00,182.67 L346.39,182.41 L347.78,182.16 L349.17,181.91 L350.56,181.65 L351.94,181.40 L353.33,181.15 L354.72,180.91 L356.11,180.66 L357.50,180.41 L358.89,180.17 L360.28,179.92 L361.67,179.68 L363.06,179.44 L364.44,179.20 L365.83,178.95 L367.22,178.72 L368.61,178.48 L370.00,178.24 L371.39,178.00 L372.78,177.77 L374.17,177.53 L375.56,177.30 L376.94,177.07 L378.33,176.83 L379.72,176.60 L381.11,176.37 L382.50,176.14 L383.89,175.91 L385.28,175.68 L386.67,175.46 L388.06,175.23 L389.44,175.00 L390.83,174.78 L392.22,174.55 L393.61,174.33 L395.00,174.11 L396.39,173.89 L397.78,173.67 L399.17,173.45 L400.56,173.23 L401.94,173.01 L403.33,172.79 L404.72,172.57 L406.11,172.36 L407.50,172.14 L408.89,171.92 L410.28,171.71 L411.67,171.50 L413.06,171.28 L414.44,171.07 L415.83,170.86 L417.22,170.64 L418.61,170.43 L420.00,170.22 L421.39,170.01 L422.78,169.80 L424.17,169.59 L425.56,169.38 L426.94,169.18 L428.33,168.97 L429.72,168.76 L431.11,168.56 L432.50,168.35 L433.89,168.14 L435.28,167.94 L436.67,167.74 L438.06,167.53 L439.44,167.33 L440.83,167.13 L442.22,166.93 L443.61,166.73 L445.00,166.53 L446.39,166.33 L447.78,166.13 L449.17,165.93 L450.56,165.73 L451.94,165.54 L453.33,165.34 L454.72,165.14 L456.11,164.95 L457.50,164.75 L458.89,164.56 L460.28,164.36 L461.67,164.17 L463.06,163.97 L464.44,163.78 L465.83,163.58 L467.22,163.39 L468.61,163.20 L470.00,163.00 L471.39,162.81 L472.78,162.62 L474.17,162.43 L475.56,162.24 L476.94,162.05 L478.33,161.86 L479.72,161.67 L481.11,161.48 L482.50,161.29 L483.89,161.10 L485.28,160.92 L486.67,160.73 L488.06,160.54 L489.44,160.36 L490.83,160.17 L492.22,159.98 L493.61,159.80 L495.00,159.61 L496.39,159.43 L497.78,159.24 L499.17,159.06 L500.56,158.87 L501.94,158.69 L503.33,158.51 L504.72,158.32 L506.11,158.14 L507.50,157.96 L508.89,157.77 L510.28,157.59 L511.67,157.41 L513.06,157.23 L514.44,157.05 L515.83,156.87 L517.22,156.69 L518.61,156.50 L520.00,156.32 L521.39,156.14 L522.78,155.97 L524.17,155.79 L525.56,155.61 L526.94,155.43 L528.33,155.25 L529.72,155.07 L531.11,154.89 L532.50,154.72 L533.89,154.54 L535.28,154.36 L536.67,154.19 L538.06,154.01 L539.44,153.83 L540.83,153.66 L542.22,153.48 L543.61,153.31 L545.00,153.13 L546.39,152.96 L547.78,152.78 L549.17,152.61 L550.56,152.43 L551.94,152.26 L553.33,152.08 L554.72,151.91 L556.11,151.73 L557.50,151.56 L558.89,151.39 L560.28,151.22 L561.67,151.04 L563.06,150.87 L564.44,150.70 L565.83,150.53 L567.22,150.35 L568.61,150.18 L570.00,150.01 L571.39,149.84 L572.78,149.67 L574.17,149.50 L575.56,149.33 L576.94,149.16 L578.33,148.99 L579.72,148.82 L581.11,148.65 L582.50,148.48 L583.89,148.31 L585.28,148.14 L586.67,147.97 L588.06,147.80 L589.44,147.63 L590.83,147.47 L592.22,147.30 L593.61,147.13 L595.00,146.96 L596.39,146.79 L597.78,146.63 L599.17,146.46 L600.56,146.29 L601.94,146.12 L603.33,145.96 L604.72,145.79 L606.11,145.62 L607.50,145.46 L608.89,145.29 L610.28,145.12 L611.67,144.96 L613.06,144.79 L614.44,144.63 L615.83,144.46 L617.22,144.30 L618.61,144.13 L620.00,143.97 L621.39,143.80 L622.78,143.64 L624.17,143.47 L625.56,143.31 L626.94,143.14 L628.33,142.98 L629.72,142.82 L631.11,142.65 L632.50,142.49 L633.89,142.32 L635.28,142.16 L636.67,142.00 L638.06,141.83 L639.44,141.67 L640.83,141.51 L642.22,141.34 L643.61,141.18 L645.00,141.02 L646.39,140.86 L647.78,140.70 L649.17,140.53 L650.56,140.37 L651.94,140.21 L653.33,140.05 L654.72,139.89 L656.11,139.72 L657.50,139.56 L658.89,139.40 L660.28,139.24 L661.67,139.08 L663.06,138.92 L664.44,138.76 L665.83,138.60 L667.22,138.44 L668.61,138.28 L670.00,138.12" fill="none" stroke="#ff0000" stroke-width="1.3"/>
<path d="M45.00,311.66 L45.69,311.66 L46.39,311.59 L47.08,311.44 L47.78,311.19 L48.47,310.84 L49.17,310.44 L49.86,310.03 L50.56,309.68 L51.25,309.35 L51.94,309.03 L52.64,308.70 L53.33,308.38 L54.03,308.07 L54.72,307.77 L55.42,307.47 L56.11,307.14 L56.81,306.80 L57.50,306.44 L58.19,306.07 L58.89,305.68 L60.28,304.87 L61.67,304.04 L63.06,303.19 L64.44,302.34 L65.83,301.48 L67.22,300.59 L68.61,299.67 L70.00,298.75 L71.39,297.81 L72.78,296.88 L74.17,295.96 L75.56,295.06 L76.94,294.15 L78.33,293.25 L79.72,292.35 L81.11,291.45 L82.50,290.55 L83.89,289.66 L85.28,288.78 L86.67,287.89 L88.06,287.02 L89.44,286.14 L90.83,285.28 L92.22,284.42 L93.61,283.57 L95.00,282.72 L96.39,281.88 L97.78,281.05 L99.17,280.22 L100.56,279.39 L101.94,278.58 L103.33,277.76 L104.72,276.95 L106.11,276.15 L107.50,275.36 L108.89,274.57 L110.28,273.79 L111.67,273.02 L113.06,272.26 L114.44,271.50 L115.83,270.75 L117.22,270.01 L118.61,269.27 L120.00,268.54 L121.39,267.82 L122.78,267.11 L124.17,266.40 L125.56,265.70 L126.94,265.01 L128.33,264.33 L129.72,263.65 L131.11,262.98 L132.50,262.31 L133.89,261.65 L135.28,261.00 L136.67,260.35 L138.06,259.70 L139.44,259.07 L140.83,258.44 L142.22,257.81 L143.61,257.19 L145.00,256.57 L146.39,255.96 L147.78,255.36 L149.17,254.76 L150.56,254.17 L151.94,253.58 L153.33,253.00 L154.72,252.42 L156.11,251.84 L157.50,251.28 L158.89,250.71 L160.28,250.16 L161.67,249.60 L163.06,249.05 L164.44,248.51 L165.83,247.96 L167.22,247.43 L168.61,246.90 L170.00,246.38 L171.39,245.87 L172.78,245.37 L174.17,244.87 L175.56,244.37 L176.94,243.87 L178.33,243.38 L179.72,242.89 L181.11,242.40 L182.50,241.92 L183.89,241.44 L185.28,240.96 L186.67,240.48 L188.06,240.01 L189.44,239.54 L190.83,239.07 L192.22,238.60 L193.61,238.14 L195.00,237.68 L196.39,237.23 L197.78,236.77 L199.17,236.32 L200.56,235.88 L201.94,235.43 L203.33,235.00 L204.72,234.56 L206.11,234.13 L207.50,233.70 L208.89,233.27 L210.28,232.85 L211.67,232.44 L213.06,232.02 L214.44,231.61 L215.83,231.20 L217.22,230.80 L218.61,230.40 L220.00,230.00 L221.39,229.61 L222.78,229.21 L224.17,228.82 L225.56,228.44 L226.94,228.05 L228.33,227.67 L229.72,227.29 L231.11,226.91 L232.50,226.54 L233.89,226.17 L235.28,225.80 L236.67,225.43 L238.06,225.07 L239.44,224.71 L240.83,224.35 L242.22,223.99 L243.61,223.64 L245.00,223.28 L246.39,222.93 L247.78,222.59 L249.17,222.24 L250.56,221.90 L251.94,221.56 L253.33,221.22 L254.72,220.89 L256.11,220.56 L257.50,220.23 L258.89,219.90 L260.28,219.57 L261.67,219.25 L263.06,218.93 L264.44,218.61 L265.83,218.29 L267.22,217.97 L268.61,217.66 L270.00,217.35 L271.39,217.04 L272.78,216.73 L274.17,216.42 L275.56,216.12 L276.94,215.81 L278.33,215.51 L279.72,215.21 L281.11,214.92 L282.50,214.62 L283.89,214.33 L285.28,214.04 L286.67,213.75 L288.06,213.46 L289.44,213.17 L290.83,212.89 L292.22,212.60 L293.61,212.32 L295.00,212.04 L296.39,211.76 L297.78,211.48 L299.17,211.21 L300.56,210.94 L301.94,210.66 L303.33,210.39 L304.72,210.12 L306.11,209.85 L307.50,209.59 L308.89,209.32 L310.28,209.06 L311.67,208.80 L313.06,208.53 L314.44,208.28 L315.83,208.02 L317.22,207.76 L318.61,207.50 L320.00,207.25 L321.39,207.00 L322.78,206.75 L324.17,206.50 L325.56,206.25 L326.94,206.00 L328.33,205.75 L329.72,205.51 L331.11,205.26 L332.50,205.02 L333.89,204.78 L335.28,204.54 L336.67,204.30 L338.06,204.06 L339.44,203.82 L340.83,203.59 L342.22,203.35 L343.61,203.12 L345.00,202.89 L346.39,202.65 L347.78,202.42 L349.17,202.19 L350.56,201.97 L351.94,201.74 L353.33,201.51 L354.72,201.29 L356.11,201.06 L357.50,200.84 L358.89,200.62 L360.28,200.40 L361.67,200.18 L363.06,199.96 L364.44,199.74 L365.83,199.52 L367.22,199.30 L368.61,199.09 L370.00,198.87 L371.39,198.66 L372.78,198.45 L374.17,198.23 L375.56,198.02 L376.94,197.81 L378.33,197.60 L379.72,197.39 L381.11,197.19 L382.50,196.98 L383.89,196.77 L385.28,196.57 L386.67,196.36 L388.06,196.16 L389.44,195.95 L390.83,195.75 L392.22,195.55 L393.61,195.35 L395.00,195.15 L396.39,194.95 L397.78,194.75 L399.17,194.55 L400.56,194.35 L401.94,194.16 L403.33,193.96 L404.72,193.76 L406.11,193.57 L407.50,193.37 L408.89,193.18 L410.28,192.99 L411.67,192.79 L413.06,192.60 L414.44,192.41 L415.83,192.22 L417.22,192.03 L418.61,191.84 L420.00,191.65 L421.39,191.46 L422.78,191.27 L424.17,191.08 L425.56,190.89 L426.94,190.70 L428.33,190.52 L429.72,190.33 L431.11,190.15 L432.50,189.96 L433.89,189.78 L435.28,189.59 L436.67,189.41 L438.06,189.23 L439.44,189.05 L440.83,188.87 L442.22,188.69 L443.61,188.51 L445.00,188.33 L446.39,188.15 L447.78,187.97 L449.17,187.79 L450.56,187.61 L451.94,187.44 L453.33,187.26 L454.72,187.08 L456.11,186.91 L457.50,186.73 L458.89,186.56 L460.28,186.38 L461.67,186.21 L463.06,186.03 L464.44,185.86 L465.83,185.69 L467.22,185.51 L468.61,185.34 L470.00,185.17 L471.39,184.99 L472.78,184.82 L474.17,184.65 L475.56,184.48 L476.94,184.31 L478.33,184.14 L479.72,183.97 L481.11,183.80 L482.50,183.63 L483.89,183.46 L485.28,183.29 L486.67,183.13 L488.06,182.96 L489.44,182.79 L490.83,182.62 L492.22,182.46 L493.61,182.29 L495.00,182.13 L496.39,181.96 L497.78,181.79 L499.17,181.63 L500.56,181.46 L501.94,181.30 L503.33,181.14 L504.72,180.97 L506.11,180.81 L507.50,180.64 L508.89,180.48 L510.28,180.32 L511.67,180.15 L513.06,179.99 L514.44,179.83 L515.83,179.67 L517.22,179.51 L518.61,179.34 L520.00,179.18 L521.39,179.02 L522.78,178.86 L524.17,178.70 L525.56,178.54 L526.94,178.38 L528.33,178.22 L529.72,178.06 L531.11,177.90 L532.50,177.74 L533.89,177.59 L535.28,177.43 L536.67,177.27 L538.06,177.11 L539.44,176.96 L540.83,176.80 L542.22,176.64 L543.61,176.48 L545.00,176.33 L546.39,176.17 L547.78,176.01 L549.17,175.86 L550.56,175.70 L551.94,175.55 L553.33,175.39 L554.72,175.24 L556.11,175.08 L557.50,174.93 L558.89,174.77 L560.28,174.62 L561.67,174.46 L563.06,174.31 L564.44,174.16 L565.83,174.00 L567.22,173.85 L568.61,173.70 L570.00,173.54 L571.39,173.39 L572.78,173.24 L574.17,173.09 L575.56,172.93 L576.94,172.78 L578.33,172.63 L579.72,172.48 L581.11,172.33 L582.50,172.18 L583.89,172.03 L585.28,171.88 L586.67,171.73 L588.06,171.57 L589.44,171.42 L590.83,171.27 L592.22,171.12 L593.61,170.97 L595.00,170.82 L596.39,170.68 L597.78,170.53 L599.17,170.38 L600.56,170.23 L601.94,170.08 L603.33,169.93 L604.72,169.78 L606.11,169.63 L607.50,169.49 L608.89,169.34 L610.28,169.19 L611.67,169.04 L613.06,168.89 L614.44,168.75 L615.83,168.60 L617.22,168.45 L618.61,168.31 L620.00,168.16 L621.39,168.01 L622.78,167.87 L624.17,167.72 L625.56,167.57 L626.94,167.43 L628.33,167.28 L629.72,167.14 L631.11,166.99 L632.50,166.84 L633.89,166.70 L635.28,166.55 L636.67,166.41 L638.06,166.26 L639.44,166.12 L640.83,165.97 L642.22,165.83 L643.61,165.68 L645.00,165.54 L646.39,165.40 L647.78,165.25 L649.17,165.11 L650.56,164.96 L651.94,164.82 L653.33,164.68 L654.72,164.53 L656.11,164.39 L657.50,164.25 L658.89,164.10 L660.28,163.96 L661.67,163.82 L663.06,163.67 L664.44,163.53 L665.83,163.39 L667.22,163.25 L668.61,163.10 L670.00,162.96" fill="none" stroke="#008000" stroke-width="1.3"/>
<g stroke="#78dcfc" fill="#78dcfc">
<path d="M201.60,186.00V237.60M197.00,186.00h9.2M197.00,237.60h9.2" stroke-width="1.8" fill="none"/>
<circle cx="201.60" cy="211.90" r="3.4" stroke="none"/>
</g>
<g stroke="#28c8fc" fill="#28c8fc">
<path d="M246.80,168.90V215.60M242.20,168.90h9.2M242.20,215.60h9.2" stroke-width="1.8" fill="none"/>
<circle cx="246.80" cy="192.30" r="3.4" stroke="none"/>
</g>
<g stroke="#0898d0" fill="#0898d0">
<path d="M330.00,141.40V196.10M325.40,141.40h9.2M325.40,196.10h9.2" stroke-width="1.8" fill="none"/>
<circle cx="330.00" cy="169.00" r="3.4" stroke="none"/>
</g>
<g stroke="#06628a" fill="#06628a">
<path d="M458.60,113.50V164.50M454.00,113.50h9.2M454.00,164.50h9.2" stroke-width="1.8" fill="none"/>
<circle cx="458.60" cy="138.90" r="3.4" stroke="none"/>
</g>
<text transform="translate(659.82 42.70) scale(0.927 0.877)" font-family="'DejaVu Sans', 'Liberation Sans', sans-serif" font-size="10.0" fill="#008000">+</text>
<text transform="translate(666.28 42.90) scale(1.123 0.903)" font-family="'DejaVu Sans', 'Liberation Sans', sans-serif" font-size="10.0" fill="#008000">2</text>
<text transform="translate(659.78 76.80) scale(0.959 0.734)" font-family="'DejaVu Sans', 'Liberation Sans', sans-serif" font-size="10.0" fill="#ff0000">+</text>
<clipPath id="c1_1"><rect x="669.20" y="70.70" width="1.60" height="6.40"/></clipPath><g clip-path="url(#c1_1)"><text transform="translate(664.53 76.80) scale(1.638 0.796)" font-family="'DejaVu Sans', 'Liberation Sans', sans-serif" font-size="10.0" fill="#ff0000">1</text></g>
<text transform="translate(663.22 108.08) scale(1.032 0.859)" font-family="'DejaVu Sans', 'Liberation Sans', sans-serif" font-size="10.0" fill="#0000ff">0</text>
<text transform="translate(659.94 136.42) scale(2.166 1.249)" font-family="'DejaVu Sans', 'Liberation Sans', sans-serif" font-size="10.0" fill="#ff0000">-</text>
<clipPath id="c1_2"><rect x="669.00" y="129.10" width="1.90" height="7.00"/></clipPath><g clip-path="url(#c1_2)"><text transform="translate(663.46 135.80) scale(1.945 0.878)" font-family="'DejaVu Sans', 'Liberation Sans', sans-serif" font-size="10.0" fill="#ff0000">1</text></g>
<text transform="translate(659.98 160.82) scale(2.090 1.249)" font-family="'DejaVu Sans', 'Liberation Sans', sans-serif" font-size="10.0" fill="#008000">-</text>
<text transform="translate(666.66 160.20) scale(1.145 0.835)" font-family="'DejaVu Sans', 'Liberation Sans', sans-serif" font-size="10.0" fill="#008000">2</text>
<path d="M41.15,35.00H673.00" stroke="#6a6a6a" stroke-width="1.50"/>
<path d="M41.90,35.00V328.30" stroke="#6a6a6a" stroke-width="1.50"/>
<path d="M672.50,35.00V328.30" stroke="#111" stroke-width="1.00"/>
<path d="M41.15,328.30H673.00" stroke="#333" stroke-width="1.50"/>
<path d="M38.15,323.50h3.0M673.00,323.50h3.0M39.15,318.50h2.0M673.00,318.50h2.0M39.15,313.50h2.0M673.00,313.50h2.0M39.15,308.50h2.0M673.00,308.50h2.0M39.15,302.50h2.0M673.00,302.50h2.0M38.15,297.50h3.0M673.00,297.50h3.0M39.15,292.50h2.0M673.00,292.50h2.0M39.15,287.50h2.0M673.00,287.50h2.0M39.15,282.50h2.0M673.00,282.50h2.0M39.15,277.50h2.0M673.00,277.50h2.0M38.15,271.50h3.0M673.00,271.50h3.0M39.15,266.50h2.0M673.00,266.50h2.0M39.15,261.50h2.0M673.00,261.50h2.0M39.15,256.50h2.0M673.00,256.50h2.0M39.15,251.50h2.0M673.00,251.50h2.0M38.15,246.50h3.0M673.00,246.50h3.0M39.15,241.50h2.0M673.00,241.50h2.0M39.15,235.50h2.0M673.00,235.50h2.0M39.15,230.50h2.0M673.00,230.50h2.0M39.15,225.50h2.0M673.00,225.50h2.0M38.15,220.50h3.0M673.00,220.50h3.0M39.15,215.50h2.0M673.00,215.50h2.0M39.15,210.50h2.0M673.00,210.50h2.0M39.15,204.50h2.0M673.00,204.50h2.0M39.15,199.50h2.0M673.00,199.50h2.0M38.15,194.50h3.0M673.00,194.50h3.0M39.15,189.50h2.0M673.00,189.50h2.0M39.15,184.50h2.0M673.00,184.50h2.0M39.15,179.50h2.0M673.00,179.50h2.0M39.15,174.50h2.0M673.00,174.50h2.0M38.15,168.50h3.0M673.00,168.50h3.0M39.15,163.50h2.0M673.00,163.50h2.0M39.15,158.50h2.0M673.00,158.50h2.0M39.15,153.50h2.0M673.00,153.50h2.0M39.15,148.50h2.0M673.00,148.50h2.0M38.15,143.50h3.0M673.00,143.50h3.0M39.15,137.50h2.0M673.00,137.50h2.0M39.15,132.50h2.0M673.00,132.50h2.0M39.15,127.50h2.0M673.00,127.50h2.0M39.15,122.50h2.0M673.00,122.50h2.0M38.15,117.50h3.0M673.00,117.50h3.0M39.15,112.50h2.0M673.00,112.50h2.0M39.15,107.50h2.0M673.00,107.50h2.0M39.15,101.50h2.0M673.00,101.50h2.0M39.15,96.50h2.0M673.00,96.50h2.0M38.15,91.50h3.0M673.00,91.50h3.0M39.15,86.50h2.0M673.00,86.50h2.0M39.15,81.50h2.0M673.00,81.50h2.0M39.15,76.50h2.0M673.00,76.50h2.0M39.15,70.50h2.0M673.00,70.50h2.0M38.15,65.50h3.0M673.00,65.50h3.0M39.15,60.50h2.0M673.00,60.50h2.0M39.15,55.50h2.0M673.00,55.50h2.0M39.15,50.50h2.0M673.00,50.50h2.0M39.15,45.50h2.0M673.00,45.50h2.0M38.15,40.50h3.0M673.00,40.50h3.0" stroke="#111" stroke-width="1" fill="none"/>
<path d="M45.50,329.05v3.6M58.50,329.05v2.0M72.50,329.05v2.0M86.50,329.05v2.0M100.50,329.05v2.0M114.50,329.05v3.6M128.50,329.05v2.0M142.50,329.05v2.0M156.50,329.05v2.0M170.50,329.05v2.0M183.50,329.05v3.6M197.50,329.05v2.0M211.50,329.05v2.0M225.50,329.05v2.0M239.50,329.05v2.0M253.50,329.05v3.6M267.50,329.05v2.0M281.50,329.05v2.0M295.50,329.05v2.0M308.50,329.05v2.0M322.50,329.05v3.6M336.50,329.05v2.0M350.50,329.05v2.0M364.50,329.05v2.0M378.50,329.05v2.0M392.50,329.05v3.6M406.50,329.05v2.0M420.50,329.05v2.0M433.50,329.05v2.0M447.50,329.05v2.0M461.50,329.05v3.6M475.50,329.05v2.0M489.50,329.05v2.0M503.50,329.05v2.0M517.50,329.05v2.0M531.50,329.05v3.6M545.50,329.05v2.0M558.50,329.05v2.0M572.50,329.05v2.0M586.50,329.05v2.0M600.50,329.05v3.6M614.50,329.05v2.0M628.50,329.05v2.0M642.50,329.05v2.0M656.50,329.05v2.0M670.50,329.05v3.6" stroke="#111" stroke-width="1" fill="none"/>
<text x="30.13" y="326.90" font-family="'Liberation Sans', Arial, sans-serif" font-size="9.20" fill="#2a2a2a" textLength="6.35" lengthAdjust="spacingAndGlyphs">2</text>
<text x="688.23" y="326.90" font-family="'Liberation Sans', Arial, sans-serif" font-size="9.20" fill="#2a2a2a" textLength="6.35" lengthAdjust="spacingAndGlyphs">2</text>
<text x="30.28" y="301.13" font-family="'Liberation Sans', Arial, sans-serif" font-size="9.20" fill="#2a2a2a" textLength="6.10" lengthAdjust="spacingAndGlyphs">3</text>
<text x="688.38" y="301.13" font-family="'Liberation Sans', Arial, sans-serif" font-size="9.20" fill="#2a2a2a" textLength="6.10" lengthAdjust="spacingAndGlyphs">3</text>
<text x="30.46" y="275.35" font-family="'Liberation Sans', Arial, sans-serif" font-size="9.20" fill="#2a2a2a" textLength="5.74" lengthAdjust="spacingAndGlyphs">4</text>
<text x="688.56" y="275.35" font-family="'Liberation Sans', Arial, sans-serif" font-size="9.20" fill="#2a2a2a" textLength="5.74" lengthAdjust="spacingAndGlyphs">4</text>
<text x="30.26" y="249.58" font-family="'Liberation Sans', Arial, sans-serif" font-size="9.20" fill="#2a2a2a" textLength="6.10" lengthAdjust="spacingAndGlyphs">5</text>
<text x="688.36" y="249.58" font-family="'Liberation Sans', Arial, sans-serif" font-size="9.20" fill="#2a2a2a" textLength="6.10" lengthAdjust="spacingAndGlyphs">5</text>
<text x="30.13" y="223.81" font-family="'Liberation Sans', Arial, sans-serif" font-size="9.20" fill="#2a2a2a" textLength="6.27" lengthAdjust="spacingAndGlyphs">6</text>
<text x="688.23" y="223.81" font-family="'Liberation Sans', Arial, sans-serif" font-size="9.20" fill="#2a2a2a" textLength="6.27" lengthAdjust="spacingAndGlyphs">6</text>
<text x="30.11" y="198.04" font-family="'Liberation Sans', Arial, sans-serif" font-size="9.20" fill="#2a2a2a" textLength="6.36" lengthAdjust="spacingAndGlyphs">7</text>
<text x="688.21" y="198.04" font-family="'Liberation Sans', Arial, sans-serif" font-size="9.20" fill="#2a2a2a" textLength="6.36" lengthAdjust="spacingAndGlyphs">7</text>
<text x="30.22" y="172.26" font-family="'Liberation Sans', Arial, sans-serif" font-size="9.20" fill="#2a2a2a" textLength="6.16" lengthAdjust="spacingAndGlyphs">8</text>
<text x="688.32" y="172.26" font-family="'Liberation Sans', Arial, sans-serif" font-size="9.20" fill="#2a2a2a" textLength="6.16" lengthAdjust="spacingAndGlyphs">8</text>
<text x="30.17" y="146.49" font-family="'Liberation Sans', Arial, sans-serif" font-size="9.20" fill="#2a2a2a" textLength="6.26" lengthAdjust="spacingAndGlyphs">9</text>
<text x="688.27" y="146.49" font-family="'Liberation Sans', Arial, sans-serif" font-size="9.20" fill="#2a2a2a" textLength="6.26" lengthAdjust="spacingAndGlyphs">9</text>
<text x="24.60" y="120.72" font-family="'Liberation Sans', Arial, sans-serif" font-size="9.20" fill="#2a2a2a" textLength="11.71" lengthAdjust="spacingAndGlyphs">10</text>
<text x="682.70" y="120.72" font-family="'Liberation Sans', Arial, sans-serif" font-size="9.20" fill="#2a2a2a" textLength="11.71" lengthAdjust="spacingAndGlyphs">10</text>
<text x="27.28" y="94.95" font-family="'Liberation Sans', Arial, sans-serif" font-size="9.20" fill="#2a2a2a" textLength="9.01" lengthAdjust="spacingAndGlyphs">11</text>
<text x="685.38" y="94.95" font-family="'Liberation Sans', Arial, sans-serif" font-size="9.20" fill="#2a2a2a" textLength="9.01" lengthAdjust="spacingAndGlyphs">11</text>
<text x="24.59" y="69.17" font-family="'Liberation Sans', Arial, sans-serif" font-size="9.20" fill="#2a2a2a" textLength="11.85" lengthAdjust="spacingAndGlyphs">12</text>
<text x="682.69" y="69.17" font-family="'Liberation Sans', Arial, sans-serif" font-size="9.20" fill="#2a2a2a" textLength="11.85" lengthAdjust="spacingAndGlyphs">12</text>
<text x="24.59" y="43.40" font-family="'Liberation Sans', Arial, sans-serif" font-size="9.20" fill="#2a2a2a" textLength="11.77" lengthAdjust="spacingAndGlyphs">13</text>
<text x="682.69" y="43.40" font-family="'Liberation Sans', Arial, sans-serif" font-size="9.20" fill="#2a2a2a" textLength="11.77" lengthAdjust="spacingAndGlyphs">13</text>
<text x="42.39" y="345.80" font-family="'Liberation Sans', Arial, sans-serif" font-size="8.60" fill="#2a2a2a" textLength="5.82" lengthAdjust="spacingAndGlyphs">0</text>
<text x="109.30" y="345.80" font-family="'Liberation Sans', Arial, sans-serif" font-size="8.60" fill="#2a2a2a" textLength="10.87" lengthAdjust="spacingAndGlyphs">50</text>
<text x="175.40" y="345.80" font-family="'Liberation Sans', Arial, sans-serif" font-size="8.60" fill="#2a2a2a" textLength="17.19" lengthAdjust="spacingAndGlyphs">100</text>
<text x="244.85" y="345.80" font-family="'Liberation Sans', Arial, sans-serif" font-size="8.60" fill="#2a2a2a" textLength="17.19" lengthAdjust="spacingAndGlyphs">150</text>
<text x="313.82" y="345.80" font-family="'Liberation Sans', Arial, sans-serif" font-size="8.60" fill="#2a2a2a" textLength="18.38" lengthAdjust="spacingAndGlyphs">200</text>
<text x="383.27" y="345.80" font-family="'Liberation Sans', Arial, sans-serif" font-size="8.60" fill="#2a2a2a" textLength="18.38" lengthAdjust="spacingAndGlyphs">250</text>
<text x="452.85" y="345.80" font-family="'Liberation Sans', Arial, sans-serif" font-size="8.60" fill="#2a2a2a" textLength="18.24" lengthAdjust="spacingAndGlyphs">300</text>
<text x="522.29" y="345.80" font-family="'Liberation Sans', Arial, sans-serif" font-size="8.60" fill="#2a2a2a" textLength="18.24" lengthAdjust="spacingAndGlyphs">350</text>
<text x="591.91" y="345.80" font-family="'Liberation Sans', Arial, sans-serif" font-size="8.60" fill="#2a2a2a" textLength="18.07" lengthAdjust="spacingAndGlyphs">400</text>
<text x="661.35" y="345.80" font-family="'Liberation Sans', Arial, sans-serif" font-size="8.60" fill="#2a2a2a" textLength="18.07" lengthAdjust="spacingAndGlyphs">450</text>
<path d="M46.50,717.18 L47.21,717.33 L47.92,717.34 L48.63,717.22 L49.34,716.90 L50.05,716.41 L50.76,715.83 L51.47,715.25 L52.18,714.75 L52.89,714.32 L53.60,713.87 L54.31,713.44 L55.02,713.01 L55.73,712.60 L56.44,712.22 L57.14,711.83 L57.85,711.41 L58.56,710.94 L59.27,710.45 L59.98,709.92 L60.69,709.37 L62.11,708.22 L63.53,707.01 L64.95,705.79 L66.37,704.59 L67.79,703.38 L69.21,702.12 L70.63,700.83 L72.05,699.52 L73.47,698.21 L74.89,696.91 L76.31,695.64 L77.73,694.38 L79.14,693.14 L80.56,691.90 L81.98,690.67 L83.40,689.45 L84.82,688.24 L86.24,687.04 L87.66,685.84 L89.08,684.66 L90.50,683.49 L91.92,682.33 L93.34,681.19 L94.76,680.07 L96.18,678.96 L97.60,677.86 L99.02,676.78 L100.43,675.71 L101.85,674.65 L103.27,673.60 L104.69,672.56 L106.11,671.53 L107.53,670.51 L108.95,669.50 L110.37,668.51 L111.79,667.52 L113.21,666.55 L114.63,665.59 L116.05,664.64 L117.47,663.70 L118.89,662.77 L120.31,661.86 L121.72,660.95 L123.14,660.04 L124.56,659.15 L125.98,658.26 L127.40,657.38 L128.82,656.50 L130.24,655.63 L131.66,654.77 L133.08,653.90 L134.50,653.05 L135.92,652.20 L137.34,651.36 L138.76,650.52 L140.18,649.69 L141.60,648.87 L143.01,648.06 L144.43,647.25 L145.85,646.45 L147.27,645.65 L148.69,644.86 L150.11,644.08 L151.53,643.30 L152.95,642.53 L154.37,641.77 L155.79,641.01 L157.21,640.26 L158.63,639.51 L160.05,638.77 L161.47,638.03 L162.89,637.30 L164.30,636.57 L165.72,635.85 L167.14,635.13 L168.56,634.41 L169.98,633.70 L171.40,632.99 L172.82,632.29 L174.24,631.61 L175.66,630.93 L177.08,630.26 L178.50,629.60 L179.92,628.94 L181.34,628.28 L182.76,627.62 L184.18,626.97 L185.59,626.31 L187.01,625.66 L188.43,625.02 L189.85,624.37 L191.27,623.73 L192.69,623.09 L194.11,622.46 L195.53,621.83 L196.95,621.20 L198.37,620.57 L199.79,619.95 L201.21,619.33 L202.63,618.72 L204.05,618.11 L205.47,617.50 L206.88,616.90 L208.30,616.30 L209.72,615.70 L211.14,615.11 L212.56,614.52 L213.98,613.94 L215.40,613.36 L216.82,612.79 L218.24,612.22 L219.66,611.65 L221.08,611.09 L222.50,610.53 L223.92,609.98 L225.34,609.43 L226.76,608.88 L228.17,608.34 L229.59,607.80 L231.01,607.26 L232.43,606.73 L233.85,606.19 L235.27,605.67 L236.69,605.14 L238.11,604.62 L239.53,604.10 L240.95,603.59 L242.37,603.08 L243.79,602.57 L245.21,602.06 L246.63,601.56 L248.05,601.05 L249.46,600.56 L250.88,600.06 L252.30,599.57 L253.72,599.08 L255.14,598.59 L256.56,598.11 L257.98,597.62 L259.40,597.14 L260.82,596.66 L262.24,596.19 L263.66,595.72 L265.08,595.25 L266.50,594.78 L267.92,594.31 L269.34,593.85 L270.75,593.39 L272.17,592.94 L273.59,592.48 L275.01,592.03 L276.43,591.58 L277.85,591.14 L279.27,590.69 L280.69,590.25 L282.11,589.81 L283.53,589.37 L284.95,588.94 L286.37,588.51 L287.79,588.07 L289.21,587.65 L290.63,587.22 L292.04,586.79 L293.46,586.37 L294.88,585.95 L296.30,585.53 L297.72,585.11 L299.14,584.69 L300.56,584.27 L301.98,583.86 L303.40,583.45 L304.82,583.03 L306.24,582.62 L307.66,582.21 L309.08,581.81 L310.50,581.40 L311.92,581.00 L313.33,580.60 L314.75,580.20 L316.17,579.80 L317.59,579.41 L319.01,579.02 L320.43,578.62 L321.85,578.23 L323.27,577.85 L324.69,577.46 L326.11,577.07 L327.53,576.69 L328.95,576.31 L330.37,575.93 L331.79,575.55 L333.21,575.17 L334.62,574.79 L336.04,574.42 L337.46,574.04 L338.88,573.67 L340.30,573.30 L341.72,572.93 L343.14,572.56 L344.56,572.19 L345.98,571.82 L347.40,571.45 L348.82,571.09 L350.24,570.72 L351.66,570.36 L353.08,569.99 L354.50,569.63 L355.91,569.27 L357.33,568.91 L358.75,568.56 L360.17,568.20 L361.59,567.85 L363.01,567.49 L364.43,567.14 L365.85,566.79 L367.27,566.44 L368.69,566.09 L370.11,565.75 L371.53,565.40 L372.95,565.06 L374.37,564.71 L375.79,564.37 L377.20,564.03 L378.62,563.69 L380.04,563.35 L381.46,563.01 L382.88,562.68 L384.30,562.34 L385.72,562.01 L387.14,561.67 L388.56,561.34 L389.98,561.01 L391.40,560.68 L392.82,560.35 L394.24,560.02 L395.66,559.69 L397.08,559.37 L398.49,559.04 L399.91,558.72 L401.33,558.39 L402.75,558.07 L404.17,557.75 L405.59,557.43 L407.01,557.11 L408.43,556.79 L409.85,556.47 L411.27,556.15 L412.69,555.83 L414.11,555.52 L415.53,555.20 L416.95,554.89 L418.37,554.57 L419.78,554.26 L421.20,553.95 L422.62,553.64 L424.04,553.33 L425.46,553.02 L426.88,552.71 L428.30,552.40 L429.72,552.09 L431.14,551.79 L432.56,551.48 L433.98,551.18 L435.40,550.87 L436.82,550.57 L438.24,550.27 L439.66,549.96 L441.07,549.66 L442.49,549.36 L443.91,549.06 L445.33,548.77 L446.75,548.47 L448.17,548.17 L449.59,547.88 L451.01,547.58 L452.43,547.29 L453.85,546.99 L455.27,546.70 L456.69,546.41 L458.11,546.11 L459.53,545.82 L460.95,545.53 L462.36,545.24 L463.78,544.95 L465.20,544.66 L466.62,544.37 L468.04,544.09 L469.46,543.80 L470.88,543.51 L472.30,543.23 L473.72,542.94 L475.14,542.66 L476.56,542.37 L477.98,542.09 L479.40,541.80 L480.82,541.52 L482.24,541.24 L483.65,540.95 L485.07,540.67 L486.49,540.39 L487.91,540.11 L489.33,539.83 L490.75,539.55 L492.17,539.28 L493.59,539.00 L495.01,538.72 L496.43,538.44 L497.85,538.17 L499.27,537.89 L500.69,537.62 L502.11,537.34 L503.53,537.07 L504.94,536.79 L506.36,536.52 L507.78,536.25 L509.20,535.97 L510.62,535.70 L512.04,535.43 L513.46,535.16 L514.88,534.89 L516.30,534.62 L517.72,534.35 L519.14,534.08 L520.56,533.81 L521.98,533.54 L523.40,533.27 L524.82,533.00 L526.23,532.73 L527.65,532.46 L529.07,532.19 L530.49,531.93 L531.91,531.66 L533.33,531.39 L534.75,531.13 L536.17,530.86 L537.59,530.60 L539.01,530.33 L540.43,530.07 L541.85,529.81 L543.27,529.54 L544.69,529.28 L546.11,529.02 L547.52,528.75 L548.94,528.49 L550.36,528.23 L551.78,527.97 L553.20,527.71 L554.62,527.45 L556.04,527.18 L557.46,526.92 L558.88,526.66 L560.30,526.40 L561.72,526.14 L563.14,525.89 L564.56,525.63 L565.98,525.37 L567.40,525.11 L568.81,524.85 L570.23,524.59 L571.65,524.34 L573.07,524.08 L574.49,523.82 L575.91,523.57 L577.33,523.31 L578.75,523.05 L580.17,522.80 L581.59,522.54 L583.01,522.29 L584.43,522.03 L585.85,521.78 L587.27,521.53 L588.69,521.27 L590.10,521.02 L591.52,520.77 L592.94,520.51 L594.36,520.26 L595.78,520.01 L597.20,519.75 L598.62,519.50 L600.04,519.25 L601.46,519.00 L602.88,518.75 L604.30,518.49 L605.72,518.24 L607.14,517.99 L608.56,517.74 L609.98,517.49 L611.39,517.24 L612.81,516.99 L614.23,516.74 L615.65,516.49 L617.07,516.24 L618.49,515.99 L619.91,515.74 L621.33,515.49 L622.75,515.24 L624.17,514.99 L625.59,514.74 L627.01,514.49 L628.43,514.24 L629.85,514.00 L631.27,513.75 L632.68,513.50 L634.10,513.25 L635.52,513.00 L636.94,512.76 L638.36,512.51 L639.78,512.26 L641.20,512.02 L642.62,511.77 L644.04,511.52 L645.46,511.28 L646.88,511.03 L648.30,510.79 L649.72,510.54 L651.14,510.29 L652.56,510.05 L653.97,509.80 L655.39,509.56 L656.81,509.31 L658.23,509.07 L659.65,508.83 L661.07,508.58 L662.49,508.34 L663.91,508.09 L665.33,507.85 L666.75,507.61 L668.17,507.36 L669.59,507.12 L671.01,506.88 L672.43,506.63 L673.85,506.39 L675.26,506.15 L676.68,505.91 L678.10,505.66 L679.52,505.42 L680.94,505.18 L682.36,504.94 L683.78,504.70 L685.20,504.45" fill="none" stroke="#008000" stroke-width="1.3"/>
<path d="M46.50,730.87 L47.21,731.00 L47.92,731.02 L48.63,730.92 L49.34,730.65 L50.05,730.23 L50.76,729.73 L51.47,729.22 L52.18,728.79 L52.89,728.42 L53.60,728.03 L54.31,727.66 L55.02,727.29 L55.73,726.93 L56.44,726.60 L57.14,726.27 L57.85,725.90 L58.56,725.50 L59.27,725.07 L59.98,724.62 L60.69,724.14 L62.11,723.14 L63.53,722.09 L64.95,721.03 L66.37,719.99 L67.79,718.93 L69.21,717.84 L70.63,716.71 L72.05,715.57 L73.47,714.43 L74.89,713.29 L76.31,712.18 L77.73,711.08 L79.14,709.99 L80.56,708.90 L81.98,707.82 L83.40,706.75 L84.82,705.69 L86.24,704.63 L87.66,703.57 L89.08,702.53 L90.50,701.50 L91.92,700.47 L93.34,699.46 L94.76,698.46 L96.18,697.47 L97.60,696.49 L99.02,695.52 L100.43,694.56 L101.85,693.61 L103.27,692.67 L104.69,691.73 L106.11,690.80 L107.53,689.88 L108.95,688.97 L110.37,688.07 L111.79,687.17 L113.21,686.29 L114.63,685.42 L116.05,684.56 L117.47,683.71 L118.89,682.86 L120.31,682.03 L121.72,681.20 L123.14,680.38 L124.56,679.57 L125.98,678.76 L127.40,677.96 L128.82,677.17 L130.24,676.38 L131.66,675.60 L133.08,674.83 L134.50,674.06 L135.92,673.29 L137.34,672.54 L138.76,671.78 L140.18,671.04 L141.60,670.30 L143.01,669.57 L144.43,668.84 L145.85,668.12 L147.27,667.41 L148.69,666.70 L150.11,665.99 L151.53,665.30 L152.95,664.60 L154.37,663.92 L155.79,663.23 L157.21,662.56 L158.63,661.89 L160.05,661.22 L161.47,660.56 L162.89,659.90 L164.30,659.25 L165.72,658.60 L167.14,657.96 L168.56,657.32 L169.98,656.68 L171.40,656.04 L172.82,655.42 L174.24,654.80 L175.66,654.20 L177.08,653.60 L178.50,653.00 L179.92,652.41 L181.34,651.82 L182.76,651.23 L184.18,650.65 L185.59,650.06 L187.01,649.48 L188.43,648.90 L189.85,648.33 L191.27,647.75 L192.69,647.18 L194.11,646.62 L195.53,646.05 L196.95,645.49 L198.37,644.93 L199.79,644.38 L201.21,643.82 L202.63,643.28 L204.05,642.73 L205.47,642.19 L206.88,641.65 L208.30,641.11 L209.72,640.58 L211.14,640.06 L212.56,639.53 L213.98,639.01 L215.40,638.50 L216.82,637.98 L218.24,637.48 L219.66,636.97 L221.08,636.47 L222.50,635.98 L223.92,635.48 L225.34,634.99 L226.76,634.50 L228.17,634.02 L229.59,633.54 L231.01,633.06 L232.43,632.59 L233.85,632.11 L235.27,631.64 L236.69,631.18 L238.11,630.71 L239.53,630.25 L240.95,629.80 L242.37,629.34 L243.79,628.89 L245.21,628.44 L246.63,627.99 L248.05,627.54 L249.46,627.10 L250.88,626.66 L252.30,626.23 L253.72,625.79 L255.14,625.36 L256.56,624.93 L257.98,624.50 L259.40,624.07 L260.82,623.65 L262.24,623.23 L263.66,622.81 L265.08,622.40 L266.50,621.98 L267.92,621.57 L269.34,621.16 L270.75,620.76 L272.17,620.35 L273.59,619.95 L275.01,619.55 L276.43,619.15 L277.85,618.76 L279.27,618.37 L280.69,617.98 L282.11,617.59 L283.53,617.20 L284.95,616.82 L286.37,616.43 L287.79,616.05 L289.21,615.67 L290.63,615.30 L292.04,614.92 L293.46,614.55 L294.88,614.17 L296.30,613.80 L297.72,613.44 L299.14,613.07 L300.56,612.70 L301.98,612.34 L303.40,611.97 L304.82,611.61 L306.24,611.25 L307.66,610.89 L309.08,610.53 L310.50,610.18 L311.92,609.83 L313.33,609.47 L314.75,609.12 L316.17,608.78 L317.59,608.43 L319.01,608.08 L320.43,607.74 L321.85,607.40 L323.27,607.06 L324.69,606.72 L326.11,606.38 L327.53,606.04 L328.95,605.71 L330.37,605.37 L331.79,605.04 L333.21,604.71 L334.62,604.38 L336.04,604.05 L337.46,603.73 L338.88,603.40 L340.30,603.07 L341.72,602.75 L343.14,602.43 L344.56,602.10 L345.98,601.78 L347.40,601.46 L348.82,601.14 L350.24,600.82 L351.66,600.51 L353.08,600.19 L354.50,599.88 L355.91,599.56 L357.33,599.25 L358.75,598.94 L360.17,598.63 L361.59,598.32 L363.01,598.02 L364.43,597.71 L365.85,597.40 L367.27,597.10 L368.69,596.80 L370.11,596.50 L371.53,596.20 L372.95,595.90 L374.37,595.60 L375.79,595.30 L377.20,595.00 L378.62,594.71 L380.04,594.41 L381.46,594.12 L382.88,593.83 L384.30,593.54 L385.72,593.25 L387.14,592.96 L388.56,592.67 L389.98,592.38 L391.40,592.09 L392.82,591.81 L394.24,591.52 L395.66,591.24 L397.08,590.95 L398.49,590.67 L399.91,590.39 L401.33,590.11 L402.75,589.83 L404.17,589.55 L405.59,589.27 L407.01,589.00 L408.43,588.72 L409.85,588.44 L411.27,588.17 L412.69,587.89 L414.11,587.62 L415.53,587.35 L416.95,587.08 L418.37,586.81 L419.78,586.54 L421.20,586.27 L422.62,586.00 L424.04,585.73 L425.46,585.46 L426.88,585.20 L428.30,584.93 L429.72,584.67 L431.14,584.40 L432.56,584.14 L433.98,583.87 L435.40,583.61 L436.82,583.35 L438.24,583.09 L439.66,582.83 L441.07,582.57 L442.49,582.31 L443.91,582.05 L445.33,581.79 L446.75,581.54 L448.17,581.28 L449.59,581.03 L451.01,580.77 L452.43,580.52 L453.85,580.26 L455.27,580.01 L456.69,579.76 L458.11,579.51 L459.53,579.26 L460.95,579.01 L462.36,578.76 L463.78,578.51 L465.20,578.26 L466.62,578.01 L468.04,577.76 L469.46,577.52 L470.88,577.27 L472.30,577.02 L473.72,576.78 L475.14,576.53 L476.56,576.28 L477.98,576.04 L479.40,575.80 L480.82,575.55 L482.24,575.31 L483.65,575.07 L485.07,574.82 L486.49,574.58 L487.91,574.34 L489.33,574.10 L490.75,573.86 L492.17,573.62 L493.59,573.38 L495.01,573.14 L496.43,572.90 L497.85,572.67 L499.27,572.43 L500.69,572.19 L502.11,571.96 L503.53,571.72 L504.94,571.48 L506.36,571.25 L507.78,571.01 L509.20,570.78 L510.62,570.54 L512.04,570.31 L513.46,570.08 L514.88,569.84 L516.30,569.61 L517.72,569.38 L519.14,569.15 L520.56,568.91 L521.98,568.68 L523.40,568.45 L524.82,568.22 L526.23,567.99 L527.65,567.76 L529.07,567.53 L530.49,567.30 L531.91,567.07 L533.33,566.84 L534.75,566.61 L536.17,566.38 L537.59,566.15 L539.01,565.92 L540.43,565.70 L541.85,565.47 L543.27,565.24 L544.69,565.02 L546.11,564.79 L547.52,564.56 L548.94,564.34 L550.36,564.11 L551.78,563.89 L553.20,563.66 L554.62,563.44 L556.04,563.21 L557.46,562.99 L558.88,562.76 L560.30,562.54 L561.72,562.32 L563.14,562.09 L564.56,561.87 L565.98,561.65 L567.40,561.42 L568.81,561.20 L570.23,560.98 L571.65,560.76 L573.07,560.54 L574.49,560.31 L575.91,560.09 L577.33,559.87 L578.75,559.65 L580.17,559.43 L581.59,559.21 L583.01,558.99 L584.43,558.77 L585.85,558.55 L587.27,558.33 L588.69,558.11 L590.10,557.90 L591.52,557.68 L592.94,557.46 L594.36,557.24 L595.78,557.02 L597.20,556.80 L598.62,556.59 L600.04,556.37 L601.46,556.15 L602.88,555.93 L604.30,555.72 L605.72,555.50 L607.14,555.28 L608.56,555.06 L609.98,554.85 L611.39,554.63 L612.81,554.41 L614.23,554.20 L615.65,553.98 L617.07,553.77 L618.49,553.55 L619.91,553.33 L621.33,553.12 L622.75,552.90 L624.17,552.69 L625.59,552.47 L627.01,552.26 L628.43,552.04 L629.85,551.83 L631.27,551.61 L632.68,551.40 L634.10,551.19 L635.52,550.97 L636.94,550.76 L638.36,550.54 L639.78,550.33 L641.20,550.12 L642.62,549.90 L644.04,549.69 L645.46,549.48 L646.88,549.27 L648.30,549.05 L649.72,548.84 L651.14,548.63 L652.56,548.41 L653.97,548.20 L655.39,547.99 L656.81,547.78 L658.23,547.57 L659.65,547.35 L661.07,547.14 L662.49,546.93 L663.91,546.72 L665.33,546.51 L666.75,546.30 L668.17,546.09 L669.59,545.88 L671.01,545.66 L672.43,545.45 L673.85,545.24 L675.26,545.03 L676.68,544.82 L678.10,544.61 L679.52,544.40 L680.94,544.19 L682.36,543.98 L683.78,543.77 L685.20,543.56" fill="none" stroke="#ff0000" stroke-width="1.3"/>
<path d="M46.50,743.46 L47.21,743.58 L47.92,743.60 L48.63,743.51 L49.34,743.27 L50.05,742.90 L50.76,742.46 L51.47,742.02 L52.18,741.64 L52.89,741.32 L53.60,740.98 L54.31,740.65 L55.02,740.33 L55.73,740.02 L56.44,739.73 L57.14,739.44 L57.85,739.12 L58.56,738.77 L59.27,738.39 L59.98,737.99 L60.69,737.57 L62.11,736.69 L63.53,735.78 L64.95,734.84 L66.37,733.93 L67.79,733.00 L69.21,732.04 L70.63,731.05 L72.05,730.05 L73.47,729.04 L74.89,728.04 L76.31,727.06 L77.73,726.09 L79.14,725.13 L80.56,724.17 L81.98,723.22 L83.40,722.27 L84.82,721.32 L86.24,720.38 L87.66,719.45 L89.08,718.52 L90.50,717.60 L91.92,716.69 L93.34,715.79 L94.76,714.89 L96.18,714.01 L97.60,713.13 L99.02,712.26 L100.43,711.40 L101.85,710.54 L103.27,709.68 L104.69,708.84 L106.11,707.99 L107.53,707.16 L108.95,706.33 L110.37,705.51 L111.79,704.70 L113.21,703.90 L114.63,703.10 L116.05,702.32 L117.47,701.54 L118.89,700.77 L120.31,700.00 L121.72,699.25 L123.14,698.50 L124.56,697.76 L125.98,697.03 L127.40,696.30 L128.82,695.58 L130.24,694.86 L131.66,694.16 L133.08,693.45 L134.50,692.76 L135.92,692.07 L137.34,691.38 L138.76,690.71 L140.18,690.03 L141.60,689.36 L143.01,688.70 L144.43,688.04 L145.85,687.39 L147.27,686.75 L148.69,686.11 L150.11,685.47 L151.53,684.84 L152.95,684.21 L154.37,683.59 L155.79,682.98 L157.21,682.37 L158.63,681.76 L160.05,681.16 L161.47,680.56 L162.89,679.97 L164.30,679.38 L165.72,678.80 L167.14,678.22 L168.56,677.63 L169.98,677.06 L171.40,676.49 L172.82,675.92 L174.24,675.37 L175.66,674.82 L177.08,674.28 L178.50,673.75 L179.92,673.21 L181.34,672.68 L182.76,672.15 L184.18,671.62 L185.59,671.10 L187.01,670.57 L188.43,670.05 L189.85,669.53 L191.27,669.02 L192.69,668.50 L194.11,667.99 L195.53,667.48 L196.95,666.98 L198.37,666.48 L199.79,665.98 L201.21,665.48 L202.63,664.99 L204.05,664.50 L205.47,664.01 L206.88,663.52 L208.30,663.04 L209.72,662.57 L211.14,662.09 L212.56,661.62 L213.98,661.15 L215.40,660.69 L216.82,660.23 L218.24,659.78 L219.66,659.32 L221.08,658.87 L222.50,658.43 L223.92,657.99 L225.34,657.55 L226.76,657.11 L228.17,656.67 L229.59,656.24 L231.01,655.81 L232.43,655.39 L233.85,654.96 L235.27,654.54 L236.69,654.12 L238.11,653.71 L239.53,653.29 L240.95,652.88 L242.37,652.47 L243.79,652.07 L245.21,651.67 L246.63,651.26 L248.05,650.87 L249.46,650.47 L250.88,650.08 L252.30,649.68 L253.72,649.30 L255.14,648.91 L256.56,648.52 L257.98,648.14 L259.40,647.76 L260.82,647.38 L262.24,647.01 L263.66,646.63 L265.08,646.26 L266.50,645.89 L267.92,645.52 L269.34,645.16 L270.75,644.80 L272.17,644.43 L273.59,644.08 L275.01,643.72 L276.43,643.36 L277.85,643.01 L279.27,642.66 L280.69,642.31 L282.11,641.97 L283.53,641.62 L284.95,641.28 L286.37,640.94 L287.79,640.60 L289.21,640.26 L290.63,639.92 L292.04,639.59 L293.46,639.26 L294.88,638.92 L296.30,638.59 L297.72,638.27 L299.14,637.94 L300.56,637.61 L301.98,637.29 L303.40,636.97 L304.82,636.64 L306.24,636.32 L307.66,636.01 L309.08,635.69 L310.50,635.37 L311.92,635.06 L313.33,634.75 L314.75,634.44 L316.17,634.13 L317.59,633.82 L319.01,633.51 L320.43,633.21 L321.85,632.91 L323.27,632.60 L324.69,632.30 L326.11,632.00 L327.53,631.70 L328.95,631.41 L330.37,631.11 L331.79,630.82 L333.21,630.53 L334.62,630.23 L336.04,629.94 L337.46,629.65 L338.88,629.36 L340.30,629.08 L341.72,628.79 L343.14,628.51 L344.56,628.22 L345.98,627.94 L347.40,627.66 L348.82,627.37 L350.24,627.09 L351.66,626.81 L353.08,626.54 L354.50,626.26 L355.91,625.98 L357.33,625.71 L358.75,625.44 L360.17,625.16 L361.59,624.89 L363.01,624.62 L364.43,624.35 L365.85,624.08 L367.27,623.82 L368.69,623.55 L370.11,623.28 L371.53,623.02 L372.95,622.76 L374.37,622.49 L375.79,622.23 L377.20,621.97 L378.62,621.71 L380.04,621.45 L381.46,621.20 L382.88,620.94 L384.30,620.68 L385.72,620.43 L387.14,620.17 L388.56,619.92 L389.98,619.67 L391.40,619.41 L392.82,619.16 L394.24,618.91 L395.66,618.66 L397.08,618.41 L398.49,618.16 L399.91,617.92 L401.33,617.67 L402.75,617.43 L404.17,617.18 L405.59,616.94 L407.01,616.70 L408.43,616.45 L409.85,616.21 L411.27,615.97 L412.69,615.73 L414.11,615.49 L415.53,615.25 L416.95,615.02 L418.37,614.78 L419.78,614.54 L421.20,614.31 L422.62,614.07 L424.04,613.84 L425.46,613.61 L426.88,613.37 L428.30,613.14 L429.72,612.91 L431.14,612.68 L432.56,612.45 L433.98,612.22 L435.40,611.99 L436.82,611.76 L438.24,611.53 L439.66,611.30 L441.07,611.08 L442.49,610.85 L443.91,610.62 L445.33,610.40 L446.75,610.18 L448.17,609.95 L449.59,609.73 L451.01,609.51 L452.43,609.29 L453.85,609.06 L455.27,608.84 L456.69,608.62 L458.11,608.40 L459.53,608.19 L460.95,607.97 L462.36,607.75 L463.78,607.53 L465.20,607.31 L466.62,607.10 L468.04,606.88 L469.46,606.67 L470.88,606.45 L472.30,606.24 L473.72,606.02 L475.14,605.81 L476.56,605.59 L477.98,605.38 L479.40,605.17 L480.82,604.95 L482.24,604.74 L483.65,604.53 L485.07,604.32 L486.49,604.11 L487.91,603.90 L489.33,603.69 L490.75,603.48 L492.17,603.27 L493.59,603.06 L495.01,602.85 L496.43,602.65 L497.85,602.44 L499.27,602.23 L500.69,602.02 L502.11,601.82 L503.53,601.61 L504.94,601.41 L506.36,601.20 L507.78,601.00 L509.20,600.79 L510.62,600.59 L512.04,600.38 L513.46,600.18 L514.88,599.98 L516.30,599.77 L517.72,599.57 L519.14,599.37 L520.56,599.17 L521.98,598.96 L523.40,598.76 L524.82,598.56 L526.23,598.36 L527.65,598.16 L529.07,597.96 L530.49,597.76 L531.91,597.56 L533.33,597.36 L534.75,597.16 L536.17,596.96 L537.59,596.76 L539.01,596.56 L540.43,596.36 L541.85,596.16 L543.27,595.97 L544.69,595.77 L546.11,595.57 L547.52,595.37 L548.94,595.18 L550.36,594.98 L551.78,594.78 L553.20,594.59 L554.62,594.39 L556.04,594.20 L557.46,594.00 L558.88,593.80 L560.30,593.61 L561.72,593.41 L563.14,593.22 L564.56,593.02 L565.98,592.83 L567.40,592.63 L568.81,592.44 L570.23,592.25 L571.65,592.05 L573.07,591.86 L574.49,591.67 L575.91,591.47 L577.33,591.28 L578.75,591.09 L580.17,590.89 L581.59,590.70 L583.01,590.51 L584.43,590.32 L585.85,590.13 L587.27,589.93 L588.69,589.74 L590.10,589.55 L591.52,589.36 L592.94,589.17 L594.36,588.98 L595.78,588.79 L597.20,588.60 L598.62,588.41 L600.04,588.22 L601.46,588.03 L602.88,587.84 L604.30,587.65 L605.72,587.46 L607.14,587.27 L608.56,587.08 L609.98,586.89 L611.39,586.70 L612.81,586.51 L614.23,586.32 L615.65,586.13 L617.07,585.94 L618.49,585.75 L619.91,585.56 L621.33,585.38 L622.75,585.19 L624.17,585.00 L625.59,584.81 L627.01,584.62 L628.43,584.44 L629.85,584.25 L631.27,584.06 L632.68,583.87 L634.10,583.69 L635.52,583.50 L636.94,583.31 L638.36,583.12 L639.78,582.94 L641.20,582.75 L642.62,582.56 L644.04,582.38 L645.46,582.19 L646.88,582.00 L648.30,581.82 L649.72,581.63 L651.14,581.44 L652.56,581.26 L653.97,581.07 L655.39,580.89 L656.81,580.70 L658.23,580.51 L659.65,580.33 L661.07,580.14 L662.49,579.96 L663.91,579.77 L665.33,579.59 L666.75,579.40 L668.17,579.22 L669.59,579.03 L671.01,578.85 L672.43,578.66 L673.85,578.48 L675.26,578.29 L676.68,578.11 L678.10,577.92 L679.52,577.74 L680.94,577.55 L682.36,577.37 L683.78,577.18 L685.20,577.00" fill="none" stroke="#0000ff" stroke-width="1.3"/>
<path d="M46.50,755.00 L47.21,755.09 L47.92,755.10 L48.63,755.01 L49.34,754.80 L50.05,754.47 L50.76,754.09 L51.47,753.70 L52.18,753.36 L52.89,753.07 L53.60,752.78 L54.31,752.48 L55.02,752.19 L55.73,751.92 L56.44,751.66 L57.14,751.40 L57.85,751.11 L58.56,750.80 L59.27,750.46 L59.98,750.11 L60.69,749.74 L62.11,748.96 L63.53,748.14 L64.95,747.32 L66.37,746.50 L67.79,745.68 L69.21,744.83 L70.63,743.95 L72.05,743.06 L73.47,742.17 L74.89,741.28 L76.31,740.41 L77.73,739.55 L79.14,738.69 L80.56,737.84 L81.98,736.99 L83.40,736.14 L84.82,735.30 L86.24,734.46 L87.66,733.63 L89.08,732.80 L90.50,731.98 L91.92,731.16 L93.34,730.35 L94.76,729.55 L96.18,728.75 L97.60,727.96 L99.02,727.17 L100.43,726.39 L101.85,725.61 L103.27,724.84 L104.69,724.07 L106.11,723.30 L107.53,722.54 L108.95,721.79 L110.37,721.04 L111.79,720.30 L113.21,719.56 L114.63,718.84 L116.05,718.12 L117.47,717.40 L118.89,716.70 L120.31,716.00 L121.72,715.31 L123.14,714.62 L124.56,713.95 L125.98,713.27 L127.40,712.61 L128.82,711.95 L130.24,711.30 L131.66,710.66 L133.08,710.02 L134.50,709.39 L135.92,708.76 L137.34,708.14 L138.76,707.52 L140.18,706.91 L141.60,706.30 L143.01,705.70 L144.43,705.10 L145.85,704.51 L147.27,703.92 L148.69,703.34 L150.11,702.76 L151.53,702.19 L152.95,701.62 L154.37,701.06 L155.79,700.50 L157.21,699.94 L158.63,699.39 L160.05,698.85 L161.47,698.30 L162.89,697.77 L164.30,697.23 L165.72,696.70 L167.14,696.17 L168.56,695.65 L169.98,695.12 L171.40,694.61 L172.82,694.09 L174.24,693.59 L175.66,693.10 L177.08,692.61 L178.50,692.12 L179.92,691.64 L181.34,691.15 L182.76,690.67 L184.18,690.19 L185.59,689.72 L187.01,689.24 L188.43,688.77 L189.85,688.30 L191.27,687.83 L192.69,687.37 L194.11,686.90 L195.53,686.44 L196.95,685.98 L198.37,685.53 L199.79,685.08 L201.21,684.63 L202.63,684.18 L204.05,683.73 L205.47,683.29 L206.88,682.85 L208.30,682.42 L209.72,681.99 L211.14,681.56 L212.56,681.13 L213.98,680.71 L215.40,680.29 L216.82,679.88 L218.24,679.46 L219.66,679.05 L221.08,678.65 L222.50,678.24 L223.92,677.84 L225.34,677.45 L226.76,677.05 L228.17,676.66 L229.59,676.27 L231.01,675.88 L232.43,675.49 L233.85,675.11 L235.27,674.73 L236.69,674.35 L238.11,673.98 L239.53,673.60 L240.95,673.23 L242.37,672.86 L243.79,672.49 L245.21,672.13 L246.63,671.77 L248.05,671.41 L249.46,671.05 L250.88,670.70 L252.30,670.34 L253.72,669.99 L255.14,669.64 L256.56,669.29 L257.98,668.95 L259.40,668.61 L260.82,668.26 L262.24,667.93 L263.66,667.59 L265.08,667.25 L266.50,666.92 L267.92,666.59 L269.34,666.26 L270.75,665.93 L272.17,665.61 L273.59,665.28 L275.01,664.96 L276.43,664.64 L277.85,664.33 L279.27,664.01 L280.69,663.70 L282.11,663.38 L283.53,663.07 L284.95,662.76 L286.37,662.46 L287.79,662.15 L289.21,661.85 L290.63,661.54 L292.04,661.24 L293.46,660.94 L294.88,660.65 L296.30,660.35 L297.72,660.05 L299.14,659.76 L300.56,659.47 L301.98,659.18 L303.40,658.89 L304.82,658.60 L306.24,658.31 L307.66,658.03 L309.08,657.74 L310.50,657.46 L311.92,657.18 L313.33,656.90 L314.75,656.62 L316.17,656.34 L317.59,656.07 L319.01,655.79 L320.43,655.52 L321.85,655.25 L323.27,654.98 L324.69,654.71 L326.11,654.44 L327.53,654.17 L328.95,653.91 L330.37,653.64 L331.79,653.38 L333.21,653.12 L334.62,652.86 L336.04,652.60 L337.46,652.34 L338.88,652.08 L340.30,651.82 L341.72,651.57 L343.14,651.31 L344.56,651.06 L345.98,650.81 L347.40,650.56 L348.82,650.30 L350.24,650.06 L351.66,649.81 L353.08,649.56 L354.50,649.31 L355.91,649.07 L357.33,648.82 L358.75,648.58 L360.17,648.34 L361.59,648.10 L363.01,647.86 L364.43,647.62 L365.85,647.38 L367.27,647.14 L368.69,646.90 L370.11,646.67 L371.53,646.43 L372.95,646.20 L374.37,645.96 L375.79,645.73 L377.20,645.50 L378.62,645.27 L380.04,645.04 L381.46,644.81 L382.88,644.58 L384.30,644.35 L385.72,644.12 L387.14,643.90 L388.56,643.67 L389.98,643.45 L391.40,643.22 L392.82,643.00 L394.24,642.78 L395.66,642.55 L397.08,642.33 L398.49,642.11 L399.91,641.89 L401.33,641.68 L402.75,641.46 L404.17,641.24 L405.59,641.03 L407.01,640.81 L408.43,640.60 L409.85,640.38 L411.27,640.17 L412.69,639.96 L414.11,639.75 L415.53,639.54 L416.95,639.33 L418.37,639.12 L419.78,638.91 L421.20,638.70 L422.62,638.49 L424.04,638.28 L425.46,638.08 L426.88,637.87 L428.30,637.67 L429.72,637.46 L431.14,637.26 L432.56,637.05 L433.98,636.85 L435.40,636.65 L436.82,636.44 L438.24,636.24 L439.66,636.04 L441.07,635.84 L442.49,635.64 L443.91,635.44 L445.33,635.24 L446.75,635.04 L448.17,634.85 L449.59,634.65 L451.01,634.45 L452.43,634.26 L453.85,634.06 L455.27,633.87 L456.69,633.67 L458.11,633.48 L459.53,633.29 L460.95,633.09 L462.36,632.90 L463.78,632.71 L465.20,632.52 L466.62,632.33 L468.04,632.14 L469.46,631.95 L470.88,631.75 L472.30,631.57 L473.72,631.38 L475.14,631.19 L476.56,631.00 L477.98,630.81 L479.40,630.62 L480.82,630.43 L482.24,630.25 L483.65,630.06 L485.07,629.87 L486.49,629.69 L487.91,629.50 L489.33,629.32 L490.75,629.13 L492.17,628.95 L493.59,628.76 L495.01,628.58 L496.43,628.40 L497.85,628.21 L499.27,628.03 L500.69,627.85 L502.11,627.67 L503.53,627.48 L504.94,627.30 L506.36,627.12 L507.78,626.94 L509.20,626.76 L510.62,626.58 L512.04,626.40 L513.46,626.22 L514.88,626.04 L516.30,625.86 L517.72,625.68 L519.14,625.50 L520.56,625.33 L521.98,625.15 L523.40,624.97 L524.82,624.79 L526.23,624.61 L527.65,624.44 L529.07,624.26 L530.49,624.08 L531.91,623.91 L533.33,623.73 L534.75,623.55 L536.17,623.38 L537.59,623.20 L539.01,623.03 L540.43,622.85 L541.85,622.68 L543.27,622.50 L544.69,622.33 L546.11,622.15 L547.52,621.98 L548.94,621.81 L550.36,621.63 L551.78,621.46 L553.20,621.29 L554.62,621.11 L556.04,620.94 L557.46,620.77 L558.88,620.59 L560.30,620.42 L561.72,620.25 L563.14,620.08 L564.56,619.90 L565.98,619.73 L567.40,619.56 L568.81,619.39 L570.23,619.22 L571.65,619.05 L573.07,618.87 L574.49,618.70 L575.91,618.53 L577.33,618.36 L578.75,618.19 L580.17,618.02 L581.59,617.85 L583.01,617.68 L584.43,617.51 L585.85,617.34 L587.27,617.17 L588.69,617.00 L590.10,616.84 L591.52,616.67 L592.94,616.50 L594.36,616.33 L595.78,616.16 L597.20,615.99 L598.62,615.82 L600.04,615.65 L601.46,615.49 L602.88,615.32 L604.30,615.15 L605.72,614.98 L607.14,614.81 L608.56,614.65 L609.98,614.48 L611.39,614.31 L612.81,614.14 L614.23,613.98 L615.65,613.81 L617.07,613.64 L618.49,613.47 L619.91,613.31 L621.33,613.14 L622.75,612.97 L624.17,612.81 L625.59,612.64 L627.01,612.48 L628.43,612.31 L629.85,612.14 L631.27,611.98 L632.68,611.81 L634.10,611.65 L635.52,611.48 L636.94,611.31 L638.36,611.15 L639.78,610.98 L641.20,610.82 L642.62,610.65 L644.04,610.49 L645.46,610.32 L646.88,610.16 L648.30,609.99 L649.72,609.83 L651.14,609.66 L652.56,609.50 L653.97,609.33 L655.39,609.17 L656.81,609.00 L658.23,608.84 L659.65,608.67 L661.07,608.51 L662.49,608.34 L663.91,608.18 L665.33,608.01 L666.75,607.85 L668.17,607.68 L669.59,607.52 L671.01,607.36 L672.43,607.19 L673.85,607.03 L675.26,606.86 L676.68,606.70 L678.10,606.54 L679.52,606.37 L680.94,606.21 L682.36,606.05 L683.78,605.88 L685.20,605.72" fill="none" stroke="#ff0000" stroke-width="1.3"/>
<path d="M46.50,765.51 L47.21,765.58 L47.92,765.57 L48.63,765.48 L49.34,765.29 L50.05,764.99 L50.76,764.64 L51.47,764.30 L52.18,764.00 L52.89,763.73 L53.60,763.46 L54.31,763.19 L55.02,762.93 L55.73,762.68 L56.44,762.45 L57.14,762.21 L57.85,761.94 L58.56,761.66 L59.27,761.36 L59.98,761.04 L60.69,760.71 L62.11,760.01 L63.53,759.28 L64.95,758.54 L66.37,757.81 L67.79,757.07 L69.21,756.30 L70.63,755.52 L72.05,754.72 L73.47,753.92 L74.89,753.12 L76.31,752.34 L77.73,751.57 L79.14,750.80 L80.56,750.03 L81.98,749.27 L83.40,748.51 L84.82,747.75 L86.24,747.00 L87.66,746.25 L89.08,745.51 L90.50,744.77 L91.92,744.04 L93.34,743.31 L94.76,742.58 L96.18,741.86 L97.60,741.14 L99.02,740.43 L100.43,739.72 L101.85,739.01 L103.27,738.30 L104.69,737.60 L106.11,736.90 L107.53,736.21 L108.95,735.52 L110.37,734.83 L111.79,734.15 L113.21,733.48 L114.63,732.81 L116.05,732.15 L117.47,731.50 L118.89,730.85 L120.31,730.21 L121.72,729.57 L123.14,728.94 L124.56,728.32 L125.98,727.71 L127.40,727.10 L128.82,726.49 L130.24,725.90 L131.66,725.31 L133.08,724.72 L134.50,724.15 L135.92,723.57 L137.34,723.01 L138.76,722.44 L140.18,721.88 L141.60,721.33 L143.01,720.78 L144.43,720.24 L145.85,719.69 L147.27,719.16 L148.69,718.63 L150.11,718.10 L151.53,717.58 L152.95,717.06 L154.37,716.54 L155.79,716.03 L157.21,715.52 L158.63,715.02 L160.05,714.52 L161.47,714.03 L162.89,713.54 L164.30,713.05 L165.72,712.57 L167.14,712.08 L168.56,711.60 L169.98,711.13 L171.40,710.65 L172.82,710.19 L174.24,709.73 L175.66,709.27 L177.08,708.83 L178.50,708.38 L179.92,707.94 L181.34,707.50 L182.76,707.06 L184.18,706.63 L185.59,706.19 L187.01,705.76 L188.43,705.33 L189.85,704.90 L191.27,704.47 L192.69,704.05 L194.11,703.62 L195.53,703.20 L196.95,702.79 L198.37,702.37 L199.79,701.96 L201.21,701.55 L202.63,701.14 L204.05,700.74 L205.47,700.33 L206.88,699.94 L208.30,699.54 L209.72,699.15 L211.14,698.75 L212.56,698.37 L213.98,697.98 L215.40,697.60 L216.82,697.22 L218.24,696.85 L219.66,696.47 L221.08,696.10 L222.50,695.74 L223.92,695.37 L225.34,695.01 L226.76,694.65 L228.17,694.29 L229.59,693.94 L231.01,693.58 L232.43,693.23 L233.85,692.88 L235.27,692.53 L236.69,692.19 L238.11,691.85 L239.53,691.51 L240.95,691.17 L242.37,690.83 L243.79,690.50 L245.21,690.17 L246.63,689.84 L248.05,689.51 L249.46,689.19 L250.88,688.86 L252.30,688.54 L253.72,688.22 L255.14,687.90 L256.56,687.59 L257.98,687.27 L259.40,686.96 L260.82,686.65 L262.24,686.34 L263.66,686.04 L265.08,685.73 L266.50,685.43 L267.92,685.13 L269.34,684.83 L270.75,684.53 L272.17,684.24 L273.59,683.94 L275.01,683.65 L276.43,683.36 L277.85,683.07 L279.27,682.79 L280.69,682.50 L282.11,682.22 L283.53,681.93 L284.95,681.65 L286.37,681.37 L287.79,681.10 L289.21,680.82 L290.63,680.55 L292.04,680.27 L293.46,680.00 L294.88,679.73 L296.30,679.46 L297.72,679.19 L299.14,678.93 L300.56,678.66 L301.98,678.40 L303.40,678.14 L304.82,677.88 L306.24,677.62 L307.66,677.36 L309.08,677.10 L310.50,676.85 L311.92,676.59 L313.33,676.34 L314.75,676.09 L316.17,675.84 L317.59,675.59 L319.01,675.34 L320.43,675.09 L321.85,674.85 L323.27,674.60 L324.69,674.36 L326.11,674.12 L327.53,673.87 L328.95,673.63 L330.37,673.39 L331.79,673.16 L333.21,672.92 L334.62,672.68 L336.04,672.45 L337.46,672.22 L338.88,671.98 L340.30,671.75 L341.72,671.52 L343.14,671.29 L344.56,671.06 L345.98,670.84 L347.40,670.61 L348.82,670.38 L350.24,670.16 L351.66,669.94 L353.08,669.71 L354.50,669.49 L355.91,669.27 L357.33,669.05 L358.75,668.83 L360.17,668.62 L361.59,668.40 L363.01,668.18 L364.43,667.97 L365.85,667.75 L367.27,667.54 L368.69,667.33 L370.11,667.11 L371.53,666.90 L372.95,666.69 L374.37,666.48 L375.79,666.27 L377.20,666.06 L378.62,665.86 L380.04,665.65 L381.46,665.44 L382.88,665.24 L384.30,665.03 L385.72,664.83 L387.14,664.63 L388.56,664.42 L389.98,664.22 L391.40,664.02 L392.82,663.82 L394.24,663.62 L395.66,663.42 L397.08,663.22 L398.49,663.02 L399.91,662.83 L401.33,662.63 L402.75,662.44 L404.17,662.24 L405.59,662.05 L407.01,661.86 L408.43,661.66 L409.85,661.47 L411.27,661.28 L412.69,661.09 L414.11,660.90 L415.53,660.71 L416.95,660.53 L418.37,660.34 L419.78,660.15 L421.20,659.97 L422.62,659.78 L424.04,659.59 L425.46,659.41 L426.88,659.23 L428.30,659.04 L429.72,658.86 L431.14,658.68 L432.56,658.49 L433.98,658.31 L435.40,658.13 L436.82,657.95 L438.24,657.77 L439.66,657.59 L441.07,657.41 L442.49,657.23 L443.91,657.05 L445.33,656.87 L446.75,656.70 L448.17,656.52 L449.59,656.34 L451.01,656.17 L452.43,655.99 L453.85,655.82 L455.27,655.65 L456.69,655.47 L458.11,655.30 L459.53,655.13 L460.95,654.95 L462.36,654.78 L463.78,654.61 L465.20,654.44 L466.62,654.27 L468.04,654.10 L469.46,653.93 L470.88,653.76 L472.30,653.59 L473.72,653.42 L475.14,653.25 L476.56,653.08 L477.98,652.91 L479.40,652.75 L480.82,652.58 L482.24,652.41 L483.65,652.24 L485.07,652.08 L486.49,651.91 L487.91,651.75 L489.33,651.58 L490.75,651.42 L492.17,651.25 L493.59,651.09 L495.01,650.92 L496.43,650.76 L497.85,650.60 L499.27,650.43 L500.69,650.27 L502.11,650.11 L503.53,649.95 L504.94,649.78 L506.36,649.62 L507.78,649.46 L509.20,649.30 L510.62,649.14 L512.04,648.98 L513.46,648.82 L514.88,648.66 L516.30,648.50 L517.72,648.34 L519.14,648.18 L520.56,648.02 L521.98,647.86 L523.40,647.70 L524.82,647.54 L526.23,647.38 L527.65,647.22 L529.07,647.07 L530.49,646.91 L531.91,646.75 L533.33,646.59 L534.75,646.44 L536.17,646.28 L537.59,646.12 L539.01,645.97 L540.43,645.81 L541.85,645.66 L543.27,645.50 L544.69,645.34 L546.11,645.19 L547.52,645.03 L548.94,644.88 L550.36,644.72 L551.78,644.57 L553.20,644.41 L554.62,644.26 L556.04,644.10 L557.46,643.95 L558.88,643.80 L560.30,643.64 L561.72,643.49 L563.14,643.33 L564.56,643.18 L565.98,643.03 L567.40,642.87 L568.81,642.72 L570.23,642.57 L571.65,642.41 L573.07,642.26 L574.49,642.11 L575.91,641.96 L577.33,641.80 L578.75,641.65 L580.17,641.50 L581.59,641.35 L583.01,641.20 L584.43,641.04 L585.85,640.89 L587.27,640.74 L588.69,640.59 L590.10,640.44 L591.52,640.29 L592.94,640.14 L594.36,639.99 L595.78,639.83 L597.20,639.68 L598.62,639.53 L600.04,639.38 L601.46,639.23 L602.88,639.08 L604.30,638.93 L605.72,638.78 L607.14,638.63 L608.56,638.48 L609.98,638.33 L611.39,638.18 L612.81,638.03 L614.23,637.88 L615.65,637.73 L617.07,637.58 L618.49,637.43 L619.91,637.29 L621.33,637.14 L622.75,636.99 L624.17,636.84 L625.59,636.69 L627.01,636.54 L628.43,636.39 L629.85,636.24 L631.27,636.10 L632.68,635.95 L634.10,635.80 L635.52,635.65 L636.94,635.50 L638.36,635.35 L639.78,635.21 L641.20,635.06 L642.62,634.91 L644.04,634.76 L645.46,634.61 L646.88,634.47 L648.30,634.32 L649.72,634.17 L651.14,634.02 L652.56,633.87 L653.97,633.73 L655.39,633.58 L656.81,633.43 L658.23,633.28 L659.65,633.14 L661.07,632.99 L662.49,632.84 L663.91,632.69 L665.33,632.55 L666.75,632.40 L668.17,632.25 L669.59,632.11 L671.01,631.96 L672.43,631.81 L673.85,631.67 L675.26,631.52 L676.68,631.37 L678.10,631.23 L679.52,631.08 L680.94,630.93 L682.36,630.79 L683.78,630.64 L685.20,630.49" fill="none" stroke="#008000" stroke-width="1.3"/>
<g stroke="#ffb8ff" fill="#ffb8ff">
<path d="M219.70,643.10V709.80M215.10,643.10h9.2M215.10,709.80h9.2" stroke-width="1.8" fill="none"/>
<circle cx="219.70" cy="676.00" r="3.4" stroke="none"/>
</g>
<g stroke="#ff78ff" fill="#ff78ff">
<path d="M261.20,629.20V691.80M256.60,629.20h9.2M256.60,691.80h9.2" stroke-width="1.8" fill="none"/>
<circle cx="261.20" cy="660.30" r="3.4" stroke="none"/>
</g>
<g stroke="#e600e6" fill="#e600e6">
<path d="M348.60,606.30V665.80M344.00,606.30h9.2M344.00,665.80h9.2" stroke-width="1.8" fill="none"/>
<circle cx="348.60" cy="636.00" r="3.4" stroke="none"/>
</g>
<g stroke="#8c008c" fill="#8c008c">
<path d="M492.70,583.00V632.90M488.10,583.00h9.2M488.10,632.90h9.2" stroke-width="1.8" fill="none"/>
<circle cx="492.70" cy="608.10" r="3.4" stroke="none"/>
</g>
<text transform="translate(675.22 501.00) scale(0.927 0.766)" font-family="'DejaVu Sans', 'Liberation Sans', sans-serif" font-size="10.0" fill="#008000">+</text>
<text transform="translate(682.55 501.70) scale(1.167 0.876)" font-family="'DejaVu Sans', 'Liberation Sans', sans-serif" font-size="10.0" fill="#008000">2</text>
<text transform="translate(675.22 540.50) scale(0.927 0.877)" font-family="'DejaVu Sans', 'Liberation Sans', sans-serif" font-size="10.0" fill="#ff0000">+</text>
<clipPath id="c1_3"><rect x="685.00" y="533.40" width="1.80" height="6.50"/></clipPath><g clip-path="url(#c1_3)"><text transform="translate(679.75 539.60) scale(1.842 0.809)" font-family="'DejaVu Sans', 'Liberation Sans', sans-serif" font-size="10.0" fill="#ff0000">1</text></g>
<text transform="translate(679.27 574.18) scale(0.953 0.820)" font-family="'DejaVu Sans', 'Liberation Sans', sans-serif" font-size="10.0" fill="#0000ff">0</text>
<text transform="translate(675.12 603.72) scale(2.204 1.249)" font-family="'DejaVu Sans', 'Liberation Sans', sans-serif" font-size="10.0" fill="#ff0000">-</text>
<clipPath id="c1_4"><rect x="685.00" y="596.00" width="1.80" height="7.00"/></clipPath><g clip-path="url(#c1_4)"><text transform="translate(679.75 602.70) scale(1.842 0.878)" font-family="'DejaVu Sans', 'Liberation Sans', sans-serif" font-size="10.0" fill="#ff0000">1</text></g>
<text transform="translate(675.48 628.22) scale(2.090 1.249)" font-family="'DejaVu Sans', 'Liberation Sans', sans-serif" font-size="10.0" fill="#008000">-</text>
<text transform="translate(682.66 626.60) scale(1.145 0.741)" font-family="'DejaVu Sans', 'Liberation Sans', sans-serif" font-size="10.0" fill="#008000">2</text>
<path d="M43.00,481.50H688.75" stroke="#111" stroke-width="1.00"/>
<path d="M43.50,481.50V781.00" stroke="#111" stroke-width="1.00"/>
<path d="M688.00,481.50V781.00" stroke="#6a6a6a" stroke-width="1.50"/>
<path d="M43.00,781.00H688.75" stroke="#6a6a6a" stroke-width="1.50"/>
<path d="M40.00,775.50h3.0M688.75,775.50h3.0M41.00,770.50h2.0M688.75,770.50h2.0M41.00,765.50h2.0M688.75,765.50h2.0M41.00,760.50h2.0M688.75,760.50h2.0M41.00,754.50h2.0M688.75,754.50h2.0M40.00,749.50h3.0M688.75,749.50h3.0M41.00,744.50h2.0M688.75,744.50h2.0M41.00,739.50h2.0M688.75,739.50h2.0M41.00,733.50h2.0M688.75,733.50h2.0M41.00,728.50h2.0M688.75,728.50h2.0M40.00,723.50h3.0M688.75,723.50h3.0M41.00,717.50h2.0M688.75,717.50h2.0M41.00,712.50h2.0M688.75,712.50h2.0M41.00,707.50h2.0M688.75,707.50h2.0M41.00,702.50h2.0M688.75,702.50h2.0M40.00,696.50h3.0M688.75,696.50h3.0M41.00,691.50h2.0M688.75,691.50h2.0M41.00,686.50h2.0M688.75,686.50h2.0M41.00,681.50h2.0M688.75,681.50h2.0M41.00,675.50h2.0M688.75,675.50h2.0M40.00,670.50h3.0M688.75,670.50h3.0M41.00,665.50h2.0M688.75,665.50h2.0M41.00,660.50h2.0M688.75,660.50h2.0M41.00,654.50h2.0M688.75,654.50h2.0M41.00,649.50h2.0M688.75,649.50h2.0M40.00,644.50h3.0M688.75,644.50h3.0M41.00,638.50h2.0M688.75,638.50h2.0M41.00,633.50h2.0M688.75,633.50h2.0M41.00,628.50h2.0M688.75,628.50h2.0M41.00,623.50h2.0M688.75,623.50h2.0M40.00,617.50h3.0M688.75,617.50h3.0M41.00,612.50h2.0M688.75,612.50h2.0M41.00,607.50h2.0M688.75,607.50h2.0M41.00,602.50h2.0M688.75,602.50h2.0M41.00,596.50h2.0M688.75,596.50h2.0M40.00,591.50h3.0M688.75,591.50h3.0M41.00,586.50h2.0M688.75,586.50h2.0M41.00,581.50h2.0M688.75,581.50h2.0M41.00,575.50h2.0M688.75,575.50h2.0M41.00,570.50h2.0M688.75,570.50h2.0M40.00,565.50h3.0M688.75,565.50h3.0M41.00,560.50h2.0M688.75,560.50h2.0M41.00,554.50h2.0M688.75,554.50h2.0M41.00,549.50h2.0M688.75,549.50h2.0M41.00,544.50h2.0M688.75,544.50h2.0M40.00,538.50h3.0M688.75,538.50h3.0M41.00,533.50h2.0M688.75,533.50h2.0M41.00,528.50h2.0M688.75,528.50h2.0M41.00,523.50h2.0M688.75,523.50h2.0M41.00,517.50h2.0M688.75,517.50h2.0M40.00,512.50h3.0M688.75,512.50h3.0M41.00,507.50h2.0M688.75,507.50h2.0M41.00,502.50h2.0M688.75,502.50h2.0M41.00,496.50h2.0M688.75,496.50h2.0M41.00,491.50h2.0M688.75,491.50h2.0M40.00,486.50h3.0M688.75,486.50h3.0" stroke="#111" stroke-width="1" fill="none"/>
<path d="M46.50,781.75v3.6M60.50,781.75v2.0M74.50,781.75v2.0M89.50,781.75v2.0M103.50,781.75v2.0M117.50,781.75v3.6M131.50,781.75v2.0M145.50,781.75v2.0M160.50,781.75v2.0M174.50,781.75v2.0M188.50,781.75v3.6M202.50,781.75v2.0M216.50,781.75v2.0M231.50,781.75v2.0M245.50,781.75v2.0M259.50,781.75v3.6M273.50,781.75v2.0M287.50,781.75v2.0M301.50,781.75v2.0M316.50,781.75v2.0M330.50,781.75v3.6M344.50,781.75v2.0M358.50,781.75v2.0M372.50,781.75v2.0M387.50,781.75v2.0M401.50,781.75v3.6M415.50,781.75v2.0M429.50,781.75v2.0M443.50,781.75v2.0M458.50,781.75v2.0M472.50,781.75v3.6M486.50,781.75v2.0M500.50,781.75v2.0M514.50,781.75v2.0M529.50,781.75v2.0M543.50,781.75v3.6M557.50,781.75v2.0M571.50,781.75v2.0M585.50,781.75v2.0M600.50,781.75v2.0M614.50,781.75v3.6M628.50,781.75v2.0M642.50,781.75v2.0M656.50,781.75v2.0M671.50,781.75v2.0M685.50,781.75v3.6" stroke="#111" stroke-width="1" fill="none"/>
<text x="31.43" y="779.60" font-family="'Liberation Sans', Arial, sans-serif" font-size="9.20" fill="#2a2a2a" textLength="6.35" lengthAdjust="spacingAndGlyphs">2</text>
<text x="705.73" y="779.60" font-family="'Liberation Sans', Arial, sans-serif" font-size="9.20" fill="#2a2a2a" textLength="6.35" lengthAdjust="spacingAndGlyphs">2</text>
<text x="31.58" y="753.27" font-family="'Liberation Sans', Arial, sans-serif" font-size="9.20" fill="#2a2a2a" textLength="6.10" lengthAdjust="spacingAndGlyphs">3</text>
<text x="705.88" y="753.27" font-family="'Liberation Sans', Arial, sans-serif" font-size="9.20" fill="#2a2a2a" textLength="6.10" lengthAdjust="spacingAndGlyphs">3</text>
<text x="31.76" y="726.95" font-family="'Liberation Sans', Arial, sans-serif" font-size="9.20" fill="#2a2a2a" textLength="5.74" lengthAdjust="spacingAndGlyphs">4</text>
<text x="706.06" y="726.95" font-family="'Liberation Sans', Arial, sans-serif" font-size="9.20" fill="#2a2a2a" textLength="5.74" lengthAdjust="spacingAndGlyphs">4</text>
<text x="31.56" y="700.62" font-family="'Liberation Sans', Arial, sans-serif" font-size="9.20" fill="#2a2a2a" textLength="6.10" lengthAdjust="spacingAndGlyphs">5</text>
<text x="705.86" y="700.62" font-family="'Liberation Sans', Arial, sans-serif" font-size="9.20" fill="#2a2a2a" textLength="6.10" lengthAdjust="spacingAndGlyphs">5</text>
<text x="31.43" y="674.29" font-family="'Liberation Sans', Arial, sans-serif" font-size="9.20" fill="#2a2a2a" textLength="6.27" lengthAdjust="spacingAndGlyphs">6</text>
<text x="705.73" y="674.29" font-family="'Liberation Sans', Arial, sans-serif" font-size="9.20" fill="#2a2a2a" textLength="6.27" lengthAdjust="spacingAndGlyphs">6</text>
<text x="31.41" y="647.96" font-family="'Liberation Sans', Arial, sans-serif" font-size="9.20" fill="#2a2a2a" textLength="6.36" lengthAdjust="spacingAndGlyphs">7</text>
<text x="705.71" y="647.96" font-family="'Liberation Sans', Arial, sans-serif" font-size="9.20" fill="#2a2a2a" textLength="6.36" lengthAdjust="spacingAndGlyphs">7</text>
<text x="31.52" y="621.64" font-family="'Liberation Sans', Arial, sans-serif" font-size="9.20" fill="#2a2a2a" textLength="6.16" lengthAdjust="spacingAndGlyphs">8</text>
<text x="705.82" y="621.64" font-family="'Liberation Sans', Arial, sans-serif" font-size="9.20" fill="#2a2a2a" textLength="6.16" lengthAdjust="spacingAndGlyphs">8</text>
<text x="31.47" y="595.31" font-family="'Liberation Sans', Arial, sans-serif" font-size="9.20" fill="#2a2a2a" textLength="6.26" lengthAdjust="spacingAndGlyphs">9</text>
<text x="705.77" y="595.31" font-family="'Liberation Sans', Arial, sans-serif" font-size="9.20" fill="#2a2a2a" textLength="6.26" lengthAdjust="spacingAndGlyphs">9</text>
<text x="25.90" y="568.98" font-family="'Liberation Sans', Arial, sans-serif" font-size="9.20" fill="#2a2a2a" textLength="11.71" lengthAdjust="spacingAndGlyphs">10</text>
<text x="700.20" y="568.98" font-family="'Liberation Sans', Arial, sans-serif" font-size="9.20" fill="#2a2a2a" textLength="11.71" lengthAdjust="spacingAndGlyphs">10</text>
<text x="28.58" y="542.65" font-family="'Liberation Sans', Arial, sans-serif" font-size="9.20" fill="#2a2a2a" textLength="9.01" lengthAdjust="spacingAndGlyphs">11</text>
<text x="702.88" y="542.65" font-family="'Liberation Sans', Arial, sans-serif" font-size="9.20" fill="#2a2a2a" textLength="9.01" lengthAdjust="spacingAndGlyphs">11</text>
<text x="25.89" y="516.33" font-family="'Liberation Sans', Arial, sans-serif" font-size="9.20" fill="#2a2a2a" textLength="11.85" lengthAdjust="spacingAndGlyphs">12</text>
<text x="700.19" y="516.33" font-family="'Liberation Sans', Arial, sans-serif" font-size="9.20" fill="#2a2a2a" textLength="11.85" lengthAdjust="spacingAndGlyphs">12</text>
<text x="25.89" y="490.00" font-family="'Liberation Sans', Arial, sans-serif" font-size="9.20" fill="#2a2a2a" textLength="11.77" lengthAdjust="spacingAndGlyphs">13</text>
<text x="700.19" y="490.00" font-family="'Liberation Sans', Arial, sans-serif" font-size="9.20" fill="#2a2a2a" textLength="11.77" lengthAdjust="spacingAndGlyphs">13</text>
<text x="43.89" y="799.40" font-family="'Liberation Sans', Arial, sans-serif" font-size="8.60" fill="#2a2a2a" textLength="5.82" lengthAdjust="spacingAndGlyphs">0</text>
<text x="112.33" y="799.40" font-family="'Liberation Sans', Arial, sans-serif" font-size="8.60" fill="#2a2a2a" textLength="10.87" lengthAdjust="spacingAndGlyphs">50</text>
<text x="179.95" y="799.40" font-family="'Liberation Sans', Arial, sans-serif" font-size="8.60" fill="#2a2a2a" textLength="17.19" lengthAdjust="spacingAndGlyphs">100</text>
<text x="250.92" y="799.40" font-family="'Liberation Sans', Arial, sans-serif" font-size="8.60" fill="#2a2a2a" textLength="17.19" lengthAdjust="spacingAndGlyphs">150</text>
<text x="321.41" y="799.40" font-family="'Liberation Sans', Arial, sans-serif" font-size="8.60" fill="#2a2a2a" textLength="18.38" lengthAdjust="spacingAndGlyphs">200</text>
<text x="392.38" y="799.40" font-family="'Liberation Sans', Arial, sans-serif" font-size="8.60" fill="#2a2a2a" textLength="18.38" lengthAdjust="spacingAndGlyphs">250</text>
<text x="463.48" y="799.40" font-family="'Liberation Sans', Arial, sans-serif" font-size="8.60" fill="#2a2a2a" textLength="18.24" lengthAdjust="spacingAndGlyphs">300</text>
<text x="534.45" y="799.40" font-family="'Liberation Sans', Arial, sans-serif" font-size="8.60" fill="#2a2a2a" textLength="18.24" lengthAdjust="spacingAndGlyphs">350</text>
<text x="605.58" y="799.40" font-family="'Liberation Sans', Arial, sans-serif" font-size="8.60" fill="#2a2a2a" textLength="18.07" lengthAdjust="spacingAndGlyphs">400</text>
<text x="676.55" y="799.40" font-family="'Liberation Sans', Arial, sans-serif" font-size="8.60" fill="#2a2a2a" textLength="18.07" lengthAdjust="spacingAndGlyphs">450</text>
<path d="M123.50,385.50H549.60" stroke="#222" stroke-width="1.00"/>
<path d="M123.50,415.50H549.60" stroke="#222" stroke-width="1.00"/>
<path d="M123.50,385.50V415.50" stroke="#222" stroke-width="1.00"/>
<path d="M549.60,385.50V415.50" stroke="#222" stroke-width="1.00"/>
<text x="134.96" y="403.50" font-family="'Liberation Sans', Arial, sans-serif" font-size="10.20" fill="#2a2a2a" textLength="16.60" lengthAdjust="spacingAndGlyphs">V<tspan font-size="8.67">isit</tspan></text>
<circle cx="175.00" cy="400.00" r="3.4" fill="#78dcfc"/>
<circle cx="189.20" cy="400.00" r="3.4" fill="#78dcfc"/>
<circle cx="203.30" cy="400.00" r="3.4" fill="#78dcfc"/>
<text x="218.51" y="403.50" font-family="'Liberation Sans', Arial, sans-serif" font-size="10.20" fill="#2a2a2a" textLength="40.14" lengthAdjust="spacingAndGlyphs">I<tspan font-size="8.67">nclusion</tspan></text>
<circle cx="274.80" cy="400.00" r="3.4" fill="#28c8fc"/>
<circle cx="289.10" cy="400.00" r="3.4" fill="#28c8fc"/>
<circle cx="303.40" cy="400.00" r="3.4" fill="#28c8fc"/>
<text x="319.27" y="403.50" font-family="'Liberation Sans', Arial, sans-serif" font-size="10.20" fill="#2a2a2a" textLength="30.42" lengthAdjust="spacingAndGlyphs">D<tspan font-size="8.67">ay</tspan> 30</text>
<circle cx="367.70" cy="400.00" r="3.4" fill="#0898d0"/>
<circle cx="382.00" cy="400.00" r="3.4" fill="#0898d0"/>
<circle cx="396.30" cy="400.00" r="3.4" fill="#0898d0"/>
<text x="410.85" y="403.50" font-family="'Liberation Sans', Arial, sans-serif" font-size="10.20" fill="#2a2a2a" textLength="31.26" lengthAdjust="spacingAndGlyphs">D<tspan font-size="8.67">ay</tspan> 90</text>
<circle cx="460.40" cy="400.00" r="3.4" fill="#06628a"/>
<circle cx="475.00" cy="400.00" r="3.4" fill="#06628a"/>
<circle cx="489.50" cy="400.00" r="3.4" fill="#06628a"/>
<text x="502.86" y="403.50" font-family="'Liberation Sans', Arial, sans-serif" font-size="10.20" fill="#2a2a2a" textLength="36.54" lengthAdjust="spacingAndGlyphs">D<tspan font-size="8.67">ay</tspan> 180</text>
<path d="M126.50,839.00H562.50" stroke="#6a6a6a" stroke-width="1.50"/>
<path d="M126.50,870.50H562.50" stroke="#111" stroke-width="1.00"/>
<path d="M126.50,839.00V870.50" stroke="#555" stroke-width="1.00"/>
<path d="M562.50,839.00V870.50" stroke="#555" stroke-width="1.00"/>
<text x="137.95" y="858.40" font-family="'Liberation Sans', Arial, sans-serif" font-size="10.20" fill="#2a2a2a" textLength="17.61" lengthAdjust="spacingAndGlyphs">V<tspan font-size="8.67">isit</tspan></text>
<circle cx="179.50" cy="854.70" r="3.4" fill="#ffb8ff"/>
<circle cx="193.90" cy="854.70" r="3.4" fill="#ffb8ff"/>
<circle cx="208.50" cy="854.70" r="3.4" fill="#ffb8ff"/>
<text x="224.94" y="858.40" font-family="'Liberation Sans', Arial, sans-serif" font-size="10.20" fill="#2a2a2a" textLength="39.10" lengthAdjust="spacingAndGlyphs">I<tspan font-size="8.67">nclusion</tspan></text>
<circle cx="281.60" cy="854.70" r="3.4" fill="#ff78ff"/>
<circle cx="296.10" cy="854.70" r="3.4" fill="#ff78ff"/>
<circle cx="310.70" cy="854.70" r="3.4" fill="#ff78ff"/>
<text x="326.83" y="858.40" font-family="'Liberation Sans', Arial, sans-serif" font-size="10.20" fill="#2a2a2a" textLength="31.88" lengthAdjust="spacingAndGlyphs">D<tspan font-size="8.67">ay</tspan> 30</text>
<circle cx="376.70" cy="854.70" r="3.4" fill="#e600e6"/>
<circle cx="391.50" cy="854.70" r="3.4" fill="#e600e6"/>
<circle cx="406.00" cy="854.70" r="3.4" fill="#e600e6"/>
<text x="420.83" y="858.40" font-family="'Liberation Sans', Arial, sans-serif" font-size="10.20" fill="#2a2a2a" textLength="31.88" lengthAdjust="spacingAndGlyphs">D<tspan font-size="8.67">ay</tspan> 90</text>
<circle cx="471.80" cy="854.70" r="3.4" fill="#8c008c"/>
<circle cx="486.50" cy="854.70" r="3.4" fill="#8c008c"/>
<circle cx="501.00" cy="854.70" r="3.4" fill="#8c008c"/>
<text x="514.94" y="858.40" font-family="'Liberation Sans', Arial, sans-serif" font-size="10.20" fill="#2a2a2a" textLength="37.58" lengthAdjust="spacingAndGlyphs">D<tspan font-size="8.67">ay</tspan> 180</text>
</svg>
</body></html>
